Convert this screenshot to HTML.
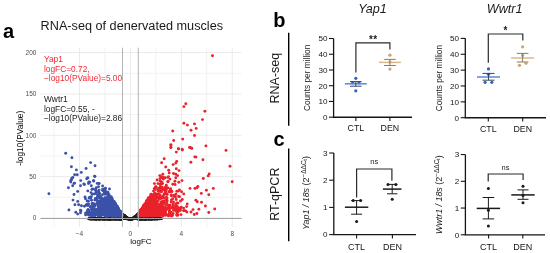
<!DOCTYPE html>
<html><head><meta charset="utf-8"><title>Figure</title>
<style>
html,body{margin:0;padding:0;background:#fff;}
body{width:550px;height:253px;overflow:hidden;}
svg{display:block;filter:blur(0.35px);font-family:"Liberation Sans", sans-serif;}
</style></head><body>
<svg width="550" height="253" viewBox="0 0 550 253">
<rect width="550" height="253" fill="#fff"/>
<line x1="54.02" y1="47.7" x2="54.02" y2="227.0" stroke="#efefef" stroke-width="0.8"/>
<line x1="104.94" y1="47.7" x2="104.94" y2="227.0" stroke="#efefef" stroke-width="0.8"/>
<line x1="155.86" y1="47.7" x2="155.86" y2="227.0" stroke="#efefef" stroke-width="0.8"/>
<line x1="206.78" y1="47.7" x2="206.78" y2="227.0" stroke="#efefef" stroke-width="0.8"/>
<line x1="40.5" y1="197.32" x2="241.5" y2="197.32" stroke="#efefef" stroke-width="0.8"/>
<line x1="40.5" y1="155.97" x2="241.5" y2="155.97" stroke="#efefef" stroke-width="0.8"/>
<line x1="40.5" y1="114.62" x2="241.5" y2="114.62" stroke="#efefef" stroke-width="0.8"/>
<line x1="40.5" y1="73.28" x2="241.5" y2="73.28" stroke="#efefef" stroke-width="0.8"/>
<line x1="79.48" y1="47.7" x2="79.48" y2="227.0" stroke="#ebebeb" stroke-width="1"/>
<line x1="130.40" y1="47.7" x2="130.40" y2="227.0" stroke="#ebebeb" stroke-width="1"/>
<line x1="181.32" y1="47.7" x2="181.32" y2="227.0" stroke="#ebebeb" stroke-width="1"/>
<line x1="232.24" y1="47.7" x2="232.24" y2="227.0" stroke="#ebebeb" stroke-width="1"/>
<line x1="40.5" y1="218.00" x2="241.5" y2="218.00" stroke="#ebebeb" stroke-width="1"/>
<line x1="40.5" y1="176.65" x2="241.5" y2="176.65" stroke="#ebebeb" stroke-width="1"/>
<line x1="40.5" y1="135.30" x2="241.5" y2="135.30" stroke="#ebebeb" stroke-width="1"/>
<line x1="40.5" y1="93.95" x2="241.5" y2="93.95" stroke="#ebebeb" stroke-width="1"/>
<line x1="40.5" y1="52.60" x2="241.5" y2="52.60" stroke="#ebebeb" stroke-width="1"/>
<g fill="#1e1e1e"><circle cx="98.5" cy="218.7" r="1.25"/><circle cx="106.0" cy="218.7" r="1.25"/><circle cx="89.5" cy="218.3" r="1.25"/><circle cx="91.4" cy="219.0" r="1.25"/><circle cx="107.5" cy="218.8" r="1.25"/><circle cx="117.5" cy="218.7" r="1.25"/><circle cx="92.1" cy="218.6" r="1.25"/><circle cx="109.7" cy="219.2" r="1.25"/><circle cx="106.4" cy="218.9" r="1.25"/><circle cx="111.2" cy="218.8" r="1.25"/><circle cx="103.1" cy="218.9" r="1.25"/><circle cx="112.9" cy="218.4" r="1.25"/><circle cx="121.8" cy="218.4" r="1.25"/><circle cx="114.1" cy="219.0" r="1.25"/><circle cx="118.1" cy="218.6" r="1.25"/><circle cx="107.6" cy="218.4" r="1.25"/><circle cx="116.2" cy="218.5" r="1.25"/><circle cx="93.0" cy="219.0" r="1.25"/><circle cx="116.1" cy="218.7" r="1.25"/><circle cx="121.0" cy="219.0" r="1.25"/><circle cx="93.3" cy="218.8" r="1.25"/><circle cx="107.9" cy="219.0" r="1.25"/><circle cx="120.8" cy="218.4" r="1.25"/><circle cx="111.0" cy="218.7" r="1.25"/><circle cx="118.9" cy="219.1" r="1.25"/><circle cx="100.9" cy="218.4" r="1.25"/><circle cx="89.2" cy="218.8" r="1.25"/><circle cx="99.1" cy="218.9" r="1.25"/><circle cx="108.8" cy="218.7" r="1.25"/><circle cx="99.9" cy="219.0" r="1.25"/><circle cx="103.5" cy="218.8" r="1.25"/><circle cx="99.2" cy="218.8" r="1.25"/><circle cx="116.4" cy="219.4" r="1.25"/><circle cx="105.8" cy="218.8" r="1.25"/><circle cx="106.3" cy="218.1" r="1.25"/><circle cx="117.6" cy="218.6" r="1.25"/><circle cx="96.3" cy="219.0" r="1.25"/><circle cx="98.7" cy="219.1" r="1.25"/><circle cx="117.3" cy="218.9" r="1.25"/><circle cx="99.6" cy="218.4" r="1.25"/><circle cx="121.0" cy="219.4" r="1.25"/><circle cx="120.9" cy="218.5" r="1.25"/><circle cx="94.8" cy="218.8" r="1.25"/><circle cx="116.8" cy="218.9" r="1.25"/><circle cx="119.3" cy="218.8" r="1.25"/><circle cx="121.5" cy="218.5" r="1.25"/><circle cx="112.7" cy="218.8" r="1.25"/><circle cx="119.1" cy="218.9" r="1.25"/><circle cx="121.8" cy="218.6" r="1.25"/><circle cx="91.6" cy="219.0" r="1.25"/><circle cx="121.5" cy="218.2" r="1.25"/><circle cx="116.3" cy="218.7" r="1.25"/><circle cx="95.9" cy="218.8" r="1.25"/><circle cx="99.6" cy="219.1" r="1.25"/><circle cx="104.8" cy="218.7" r="1.25"/><circle cx="102.6" cy="218.7" r="1.25"/><circle cx="112.7" cy="218.6" r="1.25"/><circle cx="95.8" cy="219.0" r="1.25"/><circle cx="114.4" cy="218.4" r="1.25"/><circle cx="119.4" cy="218.6" r="1.25"/><circle cx="108.7" cy="218.4" r="1.25"/><circle cx="103.1" cy="218.7" r="1.25"/><circle cx="120.4" cy="218.2" r="1.25"/><circle cx="116.8" cy="218.5" r="1.25"/><circle cx="110.4" cy="219.2" r="1.25"/><circle cx="101.1" cy="218.3" r="1.25"/><circle cx="122.1" cy="218.9" r="1.25"/><circle cx="105.3" cy="219.0" r="1.25"/><circle cx="93.9" cy="218.7" r="1.25"/><circle cx="106.7" cy="218.7" r="1.25"/><circle cx="109.1" cy="219.4" r="1.25"/><circle cx="96.6" cy="219.0" r="1.25"/><circle cx="116.1" cy="219.1" r="1.25"/><circle cx="90.2" cy="219.2" r="1.25"/><circle cx="111.4" cy="219.3" r="1.25"/><circle cx="103.1" cy="219.0" r="1.25"/><circle cx="96.5" cy="218.6" r="1.25"/><circle cx="90.9" cy="218.7" r="1.25"/><circle cx="98.1" cy="218.8" r="1.25"/><circle cx="104.8" cy="218.5" r="1.25"/><circle cx="99.3" cy="218.7" r="1.25"/><circle cx="113.0" cy="218.8" r="1.25"/><circle cx="120.2" cy="218.9" r="1.25"/><circle cx="101.0" cy="218.5" r="1.25"/><circle cx="112.1" cy="218.6" r="1.25"/><circle cx="88.9" cy="218.9" r="1.25"/><circle cx="96.1" cy="219.2" r="1.25"/><circle cx="117.9" cy="219.0" r="1.25"/><circle cx="97.0" cy="218.7" r="1.25"/><circle cx="121.5" cy="219.0" r="1.25"/><circle cx="98.0" cy="219.0" r="1.25"/><circle cx="103.8" cy="218.8" r="1.25"/><circle cx="88.5" cy="218.7" r="1.25"/><circle cx="107.8" cy="218.9" r="1.25"/><circle cx="113.6" cy="218.6" r="1.25"/><circle cx="100.8" cy="218.2" r="1.25"/><circle cx="122.0" cy="218.7" r="1.25"/><circle cx="118.7" cy="218.4" r="1.25"/><circle cx="115.6" cy="218.3" r="1.25"/><circle cx="111.2" cy="218.5" r="1.25"/><circle cx="95.2" cy="218.9" r="1.25"/><circle cx="106.8" cy="218.9" r="1.25"/><circle cx="109.2" cy="218.7" r="1.25"/><circle cx="115.3" cy="218.8" r="1.25"/><circle cx="104.9" cy="218.7" r="1.25"/><circle cx="113.2" cy="218.7" r="1.25"/><circle cx="112.9" cy="218.7" r="1.25"/><circle cx="104.5" cy="218.1" r="1.25"/><circle cx="114.2" cy="218.7" r="1.25"/><circle cx="92.2" cy="218.7" r="1.25"/><circle cx="113.4" cy="218.7" r="1.25"/><circle cx="110.9" cy="218.7" r="1.25"/><circle cx="111.0" cy="218.5" r="1.25"/><circle cx="103.6" cy="218.7" r="1.25"/><circle cx="118.7" cy="219.3" r="1.25"/><circle cx="103.0" cy="218.7" r="1.25"/><circle cx="120.8" cy="218.9" r="1.25"/><circle cx="118.5" cy="218.5" r="1.25"/><circle cx="104.3" cy="219.0" r="1.25"/><circle cx="103.0" cy="218.8" r="1.25"/><circle cx="116.8" cy="219.1" r="1.25"/><circle cx="119.0" cy="218.6" r="1.25"/><circle cx="100.2" cy="219.1" r="1.25"/><circle cx="99.8" cy="218.7" r="1.25"/><circle cx="96.8" cy="219.1" r="1.25"/><circle cx="95.9" cy="219.0" r="1.25"/><circle cx="105.1" cy="218.3" r="1.25"/><circle cx="118.4" cy="219.2" r="1.25"/><circle cx="120.4" cy="218.7" r="1.25"/><circle cx="113.0" cy="218.7" r="1.25"/><circle cx="113.7" cy="218.7" r="1.25"/><circle cx="119.9" cy="218.8" r="1.25"/><circle cx="103.8" cy="218.6" r="1.25"/><circle cx="121.7" cy="219.1" r="1.25"/><circle cx="110.3" cy="218.5" r="1.25"/><circle cx="92.9" cy="218.7" r="1.25"/><circle cx="104.6" cy="219.4" r="1.25"/><circle cx="103.0" cy="218.3" r="1.25"/><circle cx="93.8" cy="218.7" r="1.25"/><circle cx="95.5" cy="218.8" r="1.25"/><circle cx="113.6" cy="218.5" r="1.25"/><circle cx="100.4" cy="218.9" r="1.25"/><circle cx="121.4" cy="218.4" r="1.25"/><circle cx="117.6" cy="218.7" r="1.25"/><circle cx="96.6" cy="218.5" r="1.25"/><circle cx="120.9" cy="218.9" r="1.25"/><circle cx="118.0" cy="219.1" r="1.25"/><circle cx="118.8" cy="218.8" r="1.25"/><circle cx="107.8" cy="218.3" r="1.25"/><circle cx="116.3" cy="219.1" r="1.25"/><circle cx="121.5" cy="218.9" r="1.25"/><circle cx="120.4" cy="218.8" r="1.25"/><circle cx="103.2" cy="219.2" r="1.25"/><circle cx="109.9" cy="218.9" r="1.25"/><circle cx="109.6" cy="218.8" r="1.25"/><circle cx="105.6" cy="218.8" r="1.25"/><circle cx="100.8" cy="218.7" r="1.25"/><circle cx="121.0" cy="218.7" r="1.25"/><circle cx="118.4" cy="218.8" r="1.25"/><circle cx="121.1" cy="218.9" r="1.25"/><circle cx="97.9" cy="218.4" r="1.25"/><circle cx="101.9" cy="218.8" r="1.25"/><circle cx="95.1" cy="218.6" r="1.25"/><circle cx="111.2" cy="219.0" r="1.25"/><circle cx="115.3" cy="218.6" r="1.25"/><circle cx="121.4" cy="218.7" r="1.25"/><circle cx="116.1" cy="218.8" r="1.25"/><circle cx="104.6" cy="219.2" r="1.25"/><circle cx="92.0" cy="219.0" r="1.25"/><circle cx="118.9" cy="218.8" r="1.25"/><circle cx="120.1" cy="219.0" r="1.25"/><circle cx="113.5" cy="219.3" r="1.25"/><circle cx="110.6" cy="218.6" r="1.25"/><circle cx="93.0" cy="218.9" r="1.25"/><circle cx="96.9" cy="218.9" r="1.25"/><circle cx="121.2" cy="218.7" r="1.25"/><circle cx="116.2" cy="219.0" r="1.25"/><circle cx="118.8" cy="218.8" r="1.25"/><circle cx="114.2" cy="218.8" r="1.25"/><circle cx="119.7" cy="218.8" r="1.25"/><circle cx="99.0" cy="219.1" r="1.25"/><circle cx="98.2" cy="218.7" r="1.25"/><circle cx="119.5" cy="218.8" r="1.25"/><circle cx="121.0" cy="218.7" r="1.25"/><circle cx="100.7" cy="218.5" r="1.25"/><circle cx="119.9" cy="218.9" r="1.25"/><circle cx="115.5" cy="218.9" r="1.25"/><circle cx="108.6" cy="218.4" r="1.25"/><circle cx="98.3" cy="218.8" r="1.25"/><circle cx="95.8" cy="218.7" r="1.25"/><circle cx="96.4" cy="219.0" r="1.25"/><circle cx="112.2" cy="218.9" r="1.25"/><circle cx="109.0" cy="218.7" r="1.25"/><circle cx="110.6" cy="218.3" r="1.25"/><circle cx="116.9" cy="218.5" r="1.25"/><circle cx="113.2" cy="218.7" r="1.25"/><circle cx="95.8" cy="219.0" r="1.25"/><circle cx="107.5" cy="219.2" r="1.25"/><circle cx="105.0" cy="218.9" r="1.25"/><circle cx="122.2" cy="218.4" r="1.25"/><circle cx="91.2" cy="219.1" r="1.25"/><circle cx="120.0" cy="218.7" r="1.25"/><circle cx="117.7" cy="218.7" r="1.25"/><circle cx="120.6" cy="219.2" r="1.25"/><circle cx="108.2" cy="218.8" r="1.25"/><circle cx="92.0" cy="219.0" r="1.25"/><circle cx="110.1" cy="219.0" r="1.25"/><circle cx="111.1" cy="218.8" r="1.25"/><circle cx="98.1" cy="218.8" r="1.25"/><circle cx="89.2" cy="218.4" r="1.25"/><circle cx="109.7" cy="218.9" r="1.25"/><circle cx="101.5" cy="219.1" r="1.25"/><circle cx="99.7" cy="219.3" r="1.25"/><circle cx="99.9" cy="218.1" r="1.25"/><circle cx="112.8" cy="219.3" r="1.25"/><circle cx="103.4" cy="218.8" r="1.25"/><circle cx="94.0" cy="219.4" r="1.25"/><circle cx="104.1" cy="218.5" r="1.25"/><circle cx="119.9" cy="219.0" r="1.25"/><circle cx="116.3" cy="218.6" r="1.25"/><circle cx="114.9" cy="218.4" r="1.25"/><circle cx="116.4" cy="219.0" r="1.25"/><circle cx="105.4" cy="218.9" r="1.25"/><circle cx="113.9" cy="218.9" r="1.25"/><circle cx="116.8" cy="218.5" r="1.25"/><circle cx="109.3" cy="218.6" r="1.25"/><circle cx="102.9" cy="219.1" r="1.25"/><circle cx="104.4" cy="218.8" r="1.25"/><circle cx="114.1" cy="218.6" r="1.25"/><circle cx="103.8" cy="218.8" r="1.25"/><circle cx="105.1" cy="218.7" r="1.25"/><circle cx="113.0" cy="218.7" r="1.25"/><circle cx="105.2" cy="218.5" r="1.25"/><circle cx="120.8" cy="218.7" r="1.25"/><circle cx="119.5" cy="218.9" r="1.25"/><circle cx="113.8" cy="218.2" r="1.25"/><circle cx="118.8" cy="218.8" r="1.25"/><circle cx="94.4" cy="218.6" r="1.25"/><circle cx="105.0" cy="218.9" r="1.25"/><circle cx="109.6" cy="218.8" r="1.25"/><circle cx="118.0" cy="218.3" r="1.25"/><circle cx="109.4" cy="218.5" r="1.25"/><circle cx="115.3" cy="219.1" r="1.25"/><circle cx="102.7" cy="218.7" r="1.25"/><circle cx="113.4" cy="218.8" r="1.25"/><circle cx="107.8" cy="218.6" r="1.25"/><circle cx="98.1" cy="218.9" r="1.25"/><circle cx="108.9" cy="218.8" r="1.25"/><circle cx="91.7" cy="218.7" r="1.25"/><circle cx="107.9" cy="218.7" r="1.25"/><circle cx="109.1" cy="219.1" r="1.25"/><circle cx="95.6" cy="219.2" r="1.25"/><circle cx="117.9" cy="218.6" r="1.25"/><circle cx="107.0" cy="218.9" r="1.25"/><circle cx="109.9" cy="219.1" r="1.25"/><circle cx="101.4" cy="218.6" r="1.25"/><circle cx="120.4" cy="218.9" r="1.25"/><circle cx="115.9" cy="219.1" r="1.25"/><circle cx="98.0" cy="219.3" r="1.25"/><circle cx="114.8" cy="218.9" r="1.25"/><circle cx="113.5" cy="218.7" r="1.25"/><circle cx="95.0" cy="218.5" r="1.25"/><circle cx="95.2" cy="218.5" r="1.25"/><circle cx="112.3" cy="219.1" r="1.25"/><circle cx="106.7" cy="218.8" r="1.25"/><circle cx="121.3" cy="218.5" r="1.25"/><circle cx="118.2" cy="218.7" r="1.25"/><circle cx="113.5" cy="218.9" r="1.25"/><circle cx="118.2" cy="218.8" r="1.25"/><circle cx="109.4" cy="219.3" r="1.25"/><circle cx="107.2" cy="218.8" r="1.25"/><circle cx="92.1" cy="219.1" r="1.25"/><circle cx="99.2" cy="218.8" r="1.25"/><circle cx="111.6" cy="218.8" r="1.25"/><circle cx="111.7" cy="219.1" r="1.25"/><circle cx="90.8" cy="218.9" r="1.25"/><circle cx="91.0" cy="219.0" r="1.25"/><circle cx="109.4" cy="218.4" r="1.25"/><circle cx="90.5" cy="218.8" r="1.25"/><circle cx="98.3" cy="218.6" r="1.25"/><circle cx="100.1" cy="219.0" r="1.25"/><circle cx="117.2" cy="218.7" r="1.25"/><circle cx="106.1" cy="218.8" r="1.25"/><circle cx="116.1" cy="218.7" r="1.25"/><circle cx="97.1" cy="218.7" r="1.25"/><circle cx="109.3" cy="218.5" r="1.25"/><circle cx="101.2" cy="218.8" r="1.25"/><circle cx="118.5" cy="218.7" r="1.25"/><circle cx="94.3" cy="219.0" r="1.25"/><circle cx="113.7" cy="218.6" r="1.25"/><circle cx="99.4" cy="219.0" r="1.25"/><circle cx="110.5" cy="219.1" r="1.25"/><circle cx="114.5" cy="218.9" r="1.25"/><circle cx="118.4" cy="218.9" r="1.25"/><circle cx="93.8" cy="218.6" r="1.25"/><circle cx="92.5" cy="218.3" r="1.25"/><circle cx="95.8" cy="218.6" r="1.25"/><circle cx="98.6" cy="218.7" r="1.25"/><circle cx="121.6" cy="219.3" r="1.25"/><circle cx="121.9" cy="219.1" r="1.25"/><circle cx="113.0" cy="218.9" r="1.25"/><circle cx="90.8" cy="219.1" r="1.25"/><circle cx="100.8" cy="218.4" r="1.25"/><circle cx="111.6" cy="219.0" r="1.25"/><circle cx="109.4" cy="219.0" r="1.25"/><circle cx="119.2" cy="219.0" r="1.25"/><circle cx="102.0" cy="218.7" r="1.25"/><circle cx="114.5" cy="218.2" r="1.25"/><circle cx="117.3" cy="218.6" r="1.25"/><circle cx="114.8" cy="218.5" r="1.25"/><circle cx="109.4" cy="218.5" r="1.25"/><circle cx="109.1" cy="218.9" r="1.25"/><circle cx="114.6" cy="218.1" r="1.25"/><circle cx="120.4" cy="218.8" r="1.25"/><circle cx="116.4" cy="218.2" r="1.25"/><circle cx="99.6" cy="219.1" r="1.25"/><circle cx="96.7" cy="219.0" r="1.25"/><circle cx="99.5" cy="218.8" r="1.25"/><circle cx="120.4" cy="218.8" r="1.25"/><circle cx="100.9" cy="219.2" r="1.25"/><circle cx="115.7" cy="218.4" r="1.25"/><circle cx="116.1" cy="218.8" r="1.25"/><circle cx="103.6" cy="218.6" r="1.25"/><circle cx="116.6" cy="218.7" r="1.25"/><circle cx="117.2" cy="218.6" r="1.25"/><circle cx="102.1" cy="218.9" r="1.25"/><circle cx="97.0" cy="218.7" r="1.25"/><circle cx="110.4" cy="219.0" r="1.25"/><circle cx="120.0" cy="219.2" r="1.25"/><circle cx="119.2" cy="218.9" r="1.25"/><circle cx="109.5" cy="219.4" r="1.25"/><circle cx="110.3" cy="218.8" r="1.25"/><circle cx="90.6" cy="218.8" r="1.25"/><circle cx="99.3" cy="219.2" r="1.25"/><circle cx="119.1" cy="219.0" r="1.25"/><circle cx="115.0" cy="219.2" r="1.25"/><circle cx="106.7" cy="218.8" r="1.25"/><circle cx="104.5" cy="218.9" r="1.25"/><circle cx="103.6" cy="218.5" r="1.25"/><circle cx="103.6" cy="218.8" r="1.25"/><circle cx="100.3" cy="218.8" r="1.25"/><circle cx="109.6" cy="218.7" r="1.25"/><circle cx="105.1" cy="218.8" r="1.25"/><circle cx="112.5" cy="218.7" r="1.25"/><circle cx="100.0" cy="218.3" r="1.25"/><circle cx="116.3" cy="218.7" r="1.25"/><circle cx="116.4" cy="218.6" r="1.25"/><circle cx="98.7" cy="218.7" r="1.25"/><circle cx="118.4" cy="219.0" r="1.25"/><circle cx="119.7" cy="218.8" r="1.25"/><circle cx="119.3" cy="218.5" r="1.25"/><circle cx="111.7" cy="218.5" r="1.25"/><circle cx="111.2" cy="218.6" r="1.25"/><circle cx="114.1" cy="218.5" r="1.25"/><circle cx="93.4" cy="218.8" r="1.25"/><circle cx="110.3" cy="218.2" r="1.25"/><circle cx="116.2" cy="218.6" r="1.25"/><circle cx="97.7" cy="218.7" r="1.25"/><circle cx="98.3" cy="218.4" r="1.25"/><circle cx="115.8" cy="218.3" r="1.25"/><circle cx="119.6" cy="219.0" r="1.25"/><circle cx="121.8" cy="218.8" r="1.25"/><circle cx="101.6" cy="218.6" r="1.25"/><circle cx="92.4" cy="218.6" r="1.25"/><circle cx="91.6" cy="218.7" r="1.25"/><circle cx="113.0" cy="218.6" r="1.25"/><circle cx="112.9" cy="218.5" r="1.25"/><circle cx="112.5" cy="218.5" r="1.25"/><circle cx="116.0" cy="218.6" r="1.25"/><circle cx="104.3" cy="219.1" r="1.25"/><circle cx="109.4" cy="218.4" r="1.25"/><circle cx="120.5" cy="219.0" r="1.25"/><circle cx="107.1" cy="219.4" r="1.25"/><circle cx="121.7" cy="219.0" r="1.25"/><circle cx="108.3" cy="218.3" r="1.25"/><circle cx="115.7" cy="219.0" r="1.25"/><circle cx="107.3" cy="219.0" r="1.25"/><circle cx="99.3" cy="218.4" r="1.25"/><circle cx="120.1" cy="218.5" r="1.25"/><circle cx="103.5" cy="218.5" r="1.25"/><circle cx="115.1" cy="219.1" r="1.25"/><circle cx="114.4" cy="219.0" r="1.25"/><circle cx="118.4" cy="218.4" r="1.25"/><circle cx="93.7" cy="218.8" r="1.25"/><circle cx="101.3" cy="218.8" r="1.25"/><circle cx="122.4" cy="218.8" r="1.25"/><circle cx="115.0" cy="218.6" r="1.25"/><circle cx="105.4" cy="218.6" r="1.25"/><circle cx="117.7" cy="218.6" r="1.25"/><circle cx="114.7" cy="218.7" r="1.25"/><circle cx="120.6" cy="219.0" r="1.25"/><circle cx="96.0" cy="218.2" r="1.25"/><circle cx="94.1" cy="218.8" r="1.25"/><circle cx="119.3" cy="218.8" r="1.25"/><circle cx="108.2" cy="219.2" r="1.25"/><circle cx="110.8" cy="219.2" r="1.25"/><circle cx="102.9" cy="219.5" r="1.25"/><circle cx="94.9" cy="218.6" r="1.25"/><circle cx="96.1" cy="219.2" r="1.25"/><circle cx="116.7" cy="218.4" r="1.25"/><circle cx="114.9" cy="218.3" r="1.25"/><circle cx="111.0" cy="218.2" r="1.25"/><circle cx="96.1" cy="218.6" r="1.25"/><circle cx="95.5" cy="218.8" r="1.25"/><circle cx="111.1" cy="218.7" r="1.25"/><circle cx="141.4" cy="218.6" r="1.25"/><circle cx="140.3" cy="218.9" r="1.25"/><circle cx="148.9" cy="218.5" r="1.25"/><circle cx="153.1" cy="218.8" r="1.25"/><circle cx="141.5" cy="218.8" r="1.25"/><circle cx="144.4" cy="218.9" r="1.25"/><circle cx="142.0" cy="218.9" r="1.25"/><circle cx="139.4" cy="218.7" r="1.25"/><circle cx="149.5" cy="218.6" r="1.25"/><circle cx="144.2" cy="218.2" r="1.25"/><circle cx="140.3" cy="219.3" r="1.25"/><circle cx="159.5" cy="218.7" r="1.25"/><circle cx="161.5" cy="218.5" r="1.25"/><circle cx="141.4" cy="218.9" r="1.25"/><circle cx="142.5" cy="218.5" r="1.25"/><circle cx="151.7" cy="218.9" r="1.25"/><circle cx="155.1" cy="219.1" r="1.25"/><circle cx="139.9" cy="218.5" r="1.25"/><circle cx="144.6" cy="218.6" r="1.25"/><circle cx="142.9" cy="218.7" r="1.25"/><circle cx="155.3" cy="218.5" r="1.25"/><circle cx="149.8" cy="219.0" r="1.25"/><circle cx="142.5" cy="218.6" r="1.25"/><circle cx="146.8" cy="218.5" r="1.25"/><circle cx="138.1" cy="219.0" r="1.25"/><circle cx="148.7" cy="219.0" r="1.25"/><circle cx="145.7" cy="219.0" r="1.25"/><circle cx="139.5" cy="219.0" r="1.25"/><circle cx="150.3" cy="218.7" r="1.25"/><circle cx="150.9" cy="218.9" r="1.25"/><circle cx="142.4" cy="218.7" r="1.25"/><circle cx="144.0" cy="218.9" r="1.25"/><circle cx="154.8" cy="218.8" r="1.25"/><circle cx="138.4" cy="218.5" r="1.25"/><circle cx="154.9" cy="218.6" r="1.25"/><circle cx="139.1" cy="218.5" r="1.25"/><circle cx="144.7" cy="218.8" r="1.25"/><circle cx="147.7" cy="218.3" r="1.25"/><circle cx="141.5" cy="218.5" r="1.25"/><circle cx="155.9" cy="219.0" r="1.25"/><circle cx="147.3" cy="218.2" r="1.25"/><circle cx="156.6" cy="218.8" r="1.25"/><circle cx="139.3" cy="219.0" r="1.25"/><circle cx="144.0" cy="218.6" r="1.25"/><circle cx="150.7" cy="218.6" r="1.25"/><circle cx="148.4" cy="218.9" r="1.25"/><circle cx="159.2" cy="218.8" r="1.25"/><circle cx="153.4" cy="218.7" r="1.25"/><circle cx="152.9" cy="218.6" r="1.25"/><circle cx="150.5" cy="218.9" r="1.25"/><circle cx="145.3" cy="218.7" r="1.25"/><circle cx="140.9" cy="219.0" r="1.25"/><circle cx="144.4" cy="218.7" r="1.25"/><circle cx="150.8" cy="218.8" r="1.25"/><circle cx="145.0" cy="218.8" r="1.25"/><circle cx="144.9" cy="219.0" r="1.25"/><circle cx="142.8" cy="218.9" r="1.25"/><circle cx="149.1" cy="218.5" r="1.25"/><circle cx="145.5" cy="218.6" r="1.25"/><circle cx="143.3" cy="218.5" r="1.25"/><circle cx="138.3" cy="219.0" r="1.25"/><circle cx="158.7" cy="218.5" r="1.25"/><circle cx="145.1" cy="218.6" r="1.25"/><circle cx="141.8" cy="218.9" r="1.25"/><circle cx="139.5" cy="218.6" r="1.25"/><circle cx="140.6" cy="219.1" r="1.25"/><circle cx="141.7" cy="218.6" r="1.25"/><circle cx="146.5" cy="218.4" r="1.25"/><circle cx="160.0" cy="218.4" r="1.25"/><circle cx="158.9" cy="218.8" r="1.25"/><circle cx="151.7" cy="218.4" r="1.25"/><circle cx="152.6" cy="218.5" r="1.25"/><circle cx="155.4" cy="218.8" r="1.25"/><circle cx="147.4" cy="218.6" r="1.25"/><circle cx="150.0" cy="218.9" r="1.25"/><circle cx="142.4" cy="219.0" r="1.25"/><circle cx="152.0" cy="219.0" r="1.25"/><circle cx="138.3" cy="218.5" r="1.25"/><circle cx="150.4" cy="218.6" r="1.25"/><circle cx="154.4" cy="218.5" r="1.25"/><circle cx="140.4" cy="219.0" r="1.25"/><circle cx="147.6" cy="218.3" r="1.25"/><circle cx="148.6" cy="218.5" r="1.25"/><circle cx="142.1" cy="219.2" r="1.25"/><circle cx="150.3" cy="218.7" r="1.25"/><circle cx="141.8" cy="218.5" r="1.25"/><circle cx="142.5" cy="218.7" r="1.25"/><circle cx="153.3" cy="218.4" r="1.25"/><circle cx="145.4" cy="219.0" r="1.25"/><circle cx="138.1" cy="218.9" r="1.25"/><circle cx="154.0" cy="218.5" r="1.25"/><circle cx="149.9" cy="218.7" r="1.25"/><circle cx="151.8" cy="219.1" r="1.25"/><circle cx="140.9" cy="218.8" r="1.25"/><circle cx="140.4" cy="218.6" r="1.25"/><circle cx="139.5" cy="218.8" r="1.25"/><circle cx="155.2" cy="218.5" r="1.25"/><circle cx="142.1" cy="219.2" r="1.25"/><circle cx="152.0" cy="219.1" r="1.25"/><circle cx="148.8" cy="219.2" r="1.25"/><circle cx="148.6" cy="218.9" r="1.25"/><circle cx="144.0" cy="219.2" r="1.25"/><circle cx="157.6" cy="218.5" r="1.25"/><circle cx="143.8" cy="218.7" r="1.25"/><circle cx="143.8" cy="218.6" r="1.25"/><circle cx="146.6" cy="219.0" r="1.25"/><circle cx="151.5" cy="218.7" r="1.25"/><circle cx="150.8" cy="218.7" r="1.25"/><circle cx="141.0" cy="218.8" r="1.25"/><circle cx="146.4" cy="218.8" r="1.25"/><circle cx="143.7" cy="218.9" r="1.25"/><circle cx="153.9" cy="219.0" r="1.25"/><circle cx="140.2" cy="219.1" r="1.25"/><circle cx="158.0" cy="218.3" r="1.25"/><circle cx="157.3" cy="218.9" r="1.25"/><circle cx="146.5" cy="218.3" r="1.25"/><circle cx="150.1" cy="219.2" r="1.25"/><circle cx="148.9" cy="218.7" r="1.25"/><circle cx="146.8" cy="218.6" r="1.25"/><circle cx="152.6" cy="218.8" r="1.25"/><circle cx="150.3" cy="218.7" r="1.25"/><circle cx="144.5" cy="218.5" r="1.25"/><circle cx="151.6" cy="219.0" r="1.25"/><circle cx="147.4" cy="219.0" r="1.25"/><circle cx="145.7" cy="219.2" r="1.25"/><circle cx="140.6" cy="218.6" r="1.25"/><circle cx="145.1" cy="219.0" r="1.25"/><circle cx="145.5" cy="219.0" r="1.25"/><circle cx="144.8" cy="219.0" r="1.25"/><circle cx="141.2" cy="219.1" r="1.25"/><circle cx="153.9" cy="218.8" r="1.25"/><circle cx="147.9" cy="218.7" r="1.25"/><circle cx="153.1" cy="218.6" r="1.25"/><circle cx="140.8" cy="218.7" r="1.25"/><circle cx="139.0" cy="218.4" r="1.25"/><circle cx="141.9" cy="218.7" r="1.25"/><circle cx="138.9" cy="219.0" r="1.25"/><circle cx="153.3" cy="218.9" r="1.25"/><circle cx="155.2" cy="218.5" r="1.25"/><circle cx="146.4" cy="219.0" r="1.25"/><circle cx="144.9" cy="218.4" r="1.25"/><circle cx="139.1" cy="219.1" r="1.25"/><circle cx="156.0" cy="219.0" r="1.25"/><circle cx="154.7" cy="218.7" r="1.25"/><circle cx="144.7" cy="218.3" r="1.25"/><circle cx="153.1" cy="219.1" r="1.25"/><circle cx="148.3" cy="218.9" r="1.25"/><circle cx="160.3" cy="218.8" r="1.25"/><circle cx="144.3" cy="218.7" r="1.25"/><circle cx="151.1" cy="219.0" r="1.25"/><circle cx="147.9" cy="218.8" r="1.25"/><circle cx="145.5" cy="218.7" r="1.25"/><circle cx="143.7" cy="218.4" r="1.25"/><circle cx="150.4" cy="219.0" r="1.25"/><circle cx="141.4" cy="218.7" r="1.25"/><circle cx="142.1" cy="218.5" r="1.25"/><circle cx="140.7" cy="218.6" r="1.25"/><circle cx="146.7" cy="218.9" r="1.25"/><circle cx="142.7" cy="218.8" r="1.25"/><circle cx="148.8" cy="218.6" r="1.25"/><circle cx="146.7" cy="219.0" r="1.25"/><circle cx="139.7" cy="219.2" r="1.25"/><circle cx="140.0" cy="218.7" r="1.25"/><circle cx="140.6" cy="218.6" r="1.25"/><circle cx="151.0" cy="218.8" r="1.25"/><circle cx="153.7" cy="218.8" r="1.25"/><circle cx="138.7" cy="218.9" r="1.25"/><circle cx="142.5" cy="219.1" r="1.25"/><circle cx="142.0" cy="218.3" r="1.25"/><circle cx="145.8" cy="218.9" r="1.25"/><circle cx="146.8" cy="218.6" r="1.25"/><circle cx="143.7" cy="218.4" r="1.25"/><circle cx="149.9" cy="218.6" r="1.25"/><circle cx="141.8" cy="218.7" r="1.25"/><circle cx="154.5" cy="218.7" r="1.25"/><circle cx="140.2" cy="218.6" r="1.25"/><circle cx="155.4" cy="218.8" r="1.25"/><circle cx="144.8" cy="218.5" r="1.25"/><circle cx="146.1" cy="218.7" r="1.25"/><circle cx="159.7" cy="218.7" r="1.25"/><circle cx="151.5" cy="219.0" r="1.25"/><circle cx="142.7" cy="218.6" r="1.25"/><circle cx="157.5" cy="219.0" r="1.25"/><circle cx="145.1" cy="219.0" r="1.25"/><circle cx="153.5" cy="218.7" r="1.25"/><circle cx="138.7" cy="218.6" r="1.25"/><circle cx="140.0" cy="218.5" r="1.25"/><circle cx="146.9" cy="218.5" r="1.25"/><circle cx="151.6" cy="218.9" r="1.25"/><circle cx="140.7" cy="219.0" r="1.25"/><circle cx="140.7" cy="218.5" r="1.25"/><circle cx="144.1" cy="218.6" r="1.25"/><circle cx="149.7" cy="218.7" r="1.25"/><circle cx="143.4" cy="219.0" r="1.25"/><circle cx="152.1" cy="218.9" r="1.25"/><circle cx="147.8" cy="218.3" r="1.25"/><circle cx="156.2" cy="218.9" r="1.25"/><circle cx="140.5" cy="218.6" r="1.25"/><circle cx="156.6" cy="218.8" r="1.25"/><circle cx="156.6" cy="218.8" r="1.25"/><circle cx="138.4" cy="219.0" r="1.25"/><circle cx="143.1" cy="218.7" r="1.25"/><circle cx="142.0" cy="218.5" r="1.25"/><circle cx="140.9" cy="218.7" r="1.25"/><circle cx="155.3" cy="218.1" r="1.25"/><circle cx="152.5" cy="218.3" r="1.25"/><circle cx="154.2" cy="218.6" r="1.25"/><circle cx="142.6" cy="218.9" r="1.25"/><circle cx="140.7" cy="218.5" r="1.25"/><circle cx="140.7" cy="218.9" r="1.25"/><circle cx="145.0" cy="219.0" r="1.25"/><circle cx="147.1" cy="219.0" r="1.25"/><circle cx="160.8" cy="218.5" r="1.25"/><circle cx="146.2" cy="218.2" r="1.25"/><circle cx="157.2" cy="218.7" r="1.25"/><circle cx="142.4" cy="218.6" r="1.25"/><circle cx="149.4" cy="218.5" r="1.25"/><circle cx="139.8" cy="218.9" r="1.25"/><circle cx="152.1" cy="219.3" r="1.25"/><circle cx="142.1" cy="218.4" r="1.25"/><circle cx="147.3" cy="218.8" r="1.25"/><circle cx="138.1" cy="218.7" r="1.25"/><circle cx="139.1" cy="218.8" r="1.25"/><circle cx="154.1" cy="218.7" r="1.25"/><circle cx="144.3" cy="219.0" r="1.25"/><circle cx="146.7" cy="218.9" r="1.25"/><circle cx="145.3" cy="218.3" r="1.25"/><circle cx="153.2" cy="218.5" r="1.25"/><circle cx="139.5" cy="218.7" r="1.25"/><circle cx="149.6" cy="218.8" r="1.25"/><circle cx="146.4" cy="218.9" r="1.25"/><circle cx="138.2" cy="218.5" r="1.25"/><circle cx="151.6" cy="218.8" r="1.25"/><circle cx="142.1" cy="218.7" r="1.25"/><circle cx="139.9" cy="219.0" r="1.25"/><circle cx="139.6" cy="218.9" r="1.25"/><circle cx="144.2" cy="218.6" r="1.25"/><circle cx="141.9" cy="218.7" r="1.25"/><circle cx="147.6" cy="218.6" r="1.25"/><circle cx="153.6" cy="218.7" r="1.25"/><circle cx="152.4" cy="218.1" r="1.25"/><circle cx="146.2" cy="218.9" r="1.25"/><circle cx="145.8" cy="219.0" r="1.25"/><circle cx="153.6" cy="218.7" r="1.25"/><circle cx="139.4" cy="218.5" r="1.25"/><circle cx="139.1" cy="218.6" r="1.25"/><circle cx="152.3" cy="219.0" r="1.25"/><circle cx="149.1" cy="219.0" r="1.25"/><circle cx="145.9" cy="218.6" r="1.25"/><circle cx="141.7" cy="218.8" r="1.25"/><circle cx="152.4" cy="218.6" r="1.25"/><circle cx="155.8" cy="218.6" r="1.25"/><circle cx="156.6" cy="218.3" r="1.25"/><circle cx="148.9" cy="218.2" r="1.25"/><circle cx="141.2" cy="218.7" r="1.25"/><circle cx="156.2" cy="218.9" r="1.25"/><circle cx="139.4" cy="218.8" r="1.25"/><circle cx="151.3" cy="219.0" r="1.25"/><circle cx="141.6" cy="218.7" r="1.25"/><circle cx="141.9" cy="218.8" r="1.25"/><circle cx="153.3" cy="218.6" r="1.25"/><circle cx="140.6" cy="219.1" r="1.25"/><circle cx="139.4" cy="218.9" r="1.25"/><circle cx="143.4" cy="218.7" r="1.25"/><circle cx="143.6" cy="219.0" r="1.25"/><circle cx="143.2" cy="219.0" r="1.25"/><circle cx="144.8" cy="219.2" r="1.25"/><circle cx="141.9" cy="218.5" r="1.25"/><circle cx="158.7" cy="218.6" r="1.25"/><circle cx="145.1" cy="219.3" r="1.25"/><circle cx="138.2" cy="219.2" r="1.25"/><circle cx="141.6" cy="218.9" r="1.25"/><circle cx="154.4" cy="218.8" r="1.25"/><circle cx="161.5" cy="218.8" r="1.25"/><circle cx="154.5" cy="219.2" r="1.25"/><circle cx="150.1" cy="218.6" r="1.25"/><circle cx="140.9" cy="218.8" r="1.25"/><circle cx="141.3" cy="218.9" r="1.25"/><circle cx="141.6" cy="219.1" r="1.25"/><circle cx="150.0" cy="218.6" r="1.25"/><circle cx="144.6" cy="219.0" r="1.25"/><circle cx="144.4" cy="219.0" r="1.25"/><circle cx="147.8" cy="218.8" r="1.25"/><circle cx="146.7" cy="218.6" r="1.25"/><circle cx="151.1" cy="218.4" r="1.25"/><circle cx="147.6" cy="218.2" r="1.25"/><circle cx="147.3" cy="219.1" r="1.25"/><circle cx="147.8" cy="218.8" r="1.25"/><circle cx="144.1" cy="218.7" r="1.25"/><circle cx="147.0" cy="218.8" r="1.25"/><circle cx="159.8" cy="218.9" r="1.25"/><circle cx="154.7" cy="218.6" r="1.25"/><circle cx="138.0" cy="218.5" r="1.25"/><circle cx="143.6" cy="218.7" r="1.25"/><circle cx="155.1" cy="218.5" r="1.25"/><circle cx="154.3" cy="218.5" r="1.25"/><circle cx="143.4" cy="218.5" r="1.25"/><circle cx="150.5" cy="218.8" r="1.25"/><circle cx="150.6" cy="218.9" r="1.25"/><circle cx="157.5" cy="219.0" r="1.25"/><circle cx="149.0" cy="219.2" r="1.25"/><circle cx="158.8" cy="218.4" r="1.25"/><circle cx="157.6" cy="219.1" r="1.25"/><circle cx="141.7" cy="218.9" r="1.25"/><circle cx="148.9" cy="218.9" r="1.25"/><circle cx="156.2" cy="218.6" r="1.25"/><circle cx="150.5" cy="218.5" r="1.25"/><circle cx="146.9" cy="218.7" r="1.25"/><circle cx="142.8" cy="218.8" r="1.25"/><circle cx="139.4" cy="218.7" r="1.25"/><circle cx="145.8" cy="218.6" r="1.25"/><circle cx="158.0" cy="218.4" r="1.25"/><circle cx="142.8" cy="218.4" r="1.25"/><circle cx="146.9" cy="218.5" r="1.25"/><circle cx="155.1" cy="218.8" r="1.25"/><circle cx="147.8" cy="218.8" r="1.25"/><circle cx="147.2" cy="218.5" r="1.25"/><circle cx="146.9" cy="218.7" r="1.25"/><circle cx="150.6" cy="218.8" r="1.25"/><circle cx="138.6" cy="218.5" r="1.25"/><circle cx="148.6" cy="218.8" r="1.25"/><circle cx="147.6" cy="218.6" r="1.25"/><circle cx="140.8" cy="218.5" r="1.25"/><circle cx="139.9" cy="218.8" r="1.25"/><circle cx="139.3" cy="218.8" r="1.25"/><circle cx="139.3" cy="218.5" r="1.25"/><circle cx="158.9" cy="218.9" r="1.25"/><circle cx="146.0" cy="219.5" r="1.25"/><circle cx="144.6" cy="218.8" r="1.25"/><circle cx="145.5" cy="219.0" r="1.25"/><circle cx="150.3" cy="218.5" r="1.25"/><circle cx="139.2" cy="219.1" r="1.25"/><circle cx="142.8" cy="218.4" r="1.25"/><circle cx="150.9" cy="218.5" r="1.25"/><circle cx="152.0" cy="218.8" r="1.25"/><circle cx="157.2" cy="219.0" r="1.25"/><circle cx="139.2" cy="218.6" r="1.25"/><circle cx="150.8" cy="218.5" r="1.25"/><circle cx="144.6" cy="218.7" r="1.25"/><circle cx="145.0" cy="218.9" r="1.25"/><circle cx="139.4" cy="218.4" r="1.25"/><circle cx="153.3" cy="218.8" r="1.25"/><circle cx="152.3" cy="218.7" r="1.25"/><circle cx="145.1" cy="218.8" r="1.25"/><circle cx="140.4" cy="218.6" r="1.25"/><circle cx="148.0" cy="218.7" r="1.25"/><circle cx="154.5" cy="219.3" r="1.25"/><circle cx="139.4" cy="219.2" r="1.25"/><circle cx="145.0" cy="218.9" r="1.25"/><circle cx="152.0" cy="218.6" r="1.25"/><circle cx="158.2" cy="218.7" r="1.25"/><circle cx="135.1" cy="218.8" r="1.25"/><circle cx="128.7" cy="218.8" r="1.25"/><circle cx="128.5" cy="218.8" r="1.25"/><circle cx="126.0" cy="217.8" r="1.25"/><circle cx="124.0" cy="216.6" r="1.25"/><circle cx="134.0" cy="217.9" r="1.25"/><circle cx="133.2" cy="217.9" r="1.25"/><circle cx="135.6" cy="216.1" r="1.25"/><circle cx="137.1" cy="218.9" r="1.25"/><circle cx="137.3" cy="216.6" r="1.25"/><circle cx="127.1" cy="217.9" r="1.25"/><circle cx="134.4" cy="217.8" r="1.25"/><circle cx="137.2" cy="214.7" r="1.25"/><circle cx="130.2" cy="218.9" r="1.25"/><circle cx="131.9" cy="218.9" r="1.25"/><circle cx="123.9" cy="215.1" r="1.25"/><circle cx="126.8" cy="218.7" r="1.25"/><circle cx="135.9" cy="216.2" r="1.25"/><circle cx="137.1" cy="214.5" r="1.25"/><circle cx="132.0" cy="218.9" r="1.25"/><circle cx="127.9" cy="218.9" r="1.25"/><circle cx="132.9" cy="218.1" r="1.25"/><circle cx="127.8" cy="218.4" r="1.25"/><circle cx="126.4" cy="218.3" r="1.25"/><circle cx="125.3" cy="218.2" r="1.25"/><circle cx="127.2" cy="217.6" r="1.25"/><circle cx="131.3" cy="218.9" r="1.25"/><circle cx="131.2" cy="218.9" r="1.25"/><circle cx="131.9" cy="218.9" r="1.25"/><circle cx="123.0" cy="216.4" r="1.25"/><circle cx="124.0" cy="217.4" r="1.25"/><circle cx="124.6" cy="217.3" r="1.25"/><circle cx="128.1" cy="218.5" r="1.25"/><circle cx="133.0" cy="218.2" r="1.25"/><circle cx="125.2" cy="218.7" r="1.25"/><circle cx="127.7" cy="218.7" r="1.25"/><circle cx="136.3" cy="216.9" r="1.25"/><circle cx="124.9" cy="215.7" r="1.25"/><circle cx="136.4" cy="215.5" r="1.25"/><circle cx="130.3" cy="218.9" r="1.25"/><circle cx="124.4" cy="216.8" r="1.25"/><circle cx="125.1" cy="217.4" r="1.25"/><circle cx="130.5" cy="218.9" r="1.25"/><circle cx="125.6" cy="217.2" r="1.25"/><circle cx="125.7" cy="216.5" r="1.25"/><circle cx="126.3" cy="218.6" r="1.25"/><circle cx="130.4" cy="218.9" r="1.25"/><circle cx="122.7" cy="218.6" r="1.25"/><circle cx="130.2" cy="218.9" r="1.25"/><circle cx="131.5" cy="218.9" r="1.25"/><circle cx="126.1" cy="218.3" r="1.25"/><circle cx="124.9" cy="216.4" r="1.25"/><circle cx="123.0" cy="215.8" r="1.25"/><circle cx="130.7" cy="218.9" r="1.25"/><circle cx="136.6" cy="215.2" r="1.25"/><circle cx="131.6" cy="218.9" r="1.25"/><circle cx="131.9" cy="218.9" r="1.25"/><circle cx="133.7" cy="217.4" r="1.25"/><circle cx="126.4" cy="218.0" r="1.25"/><circle cx="138.0" cy="213.8" r="1.25"/><circle cx="132.3" cy="218.8" r="1.25"/><circle cx="135.4" cy="216.9" r="1.25"/><circle cx="135.3" cy="217.3" r="1.25"/><circle cx="137.0" cy="214.5" r="1.25"/><circle cx="137.4" cy="216.1" r="1.25"/><circle cx="128.9" cy="218.9" r="1.25"/><circle cx="126.4" cy="218.3" r="1.25"/><circle cx="133.2" cy="218.0" r="1.25"/><circle cx="127.9" cy="218.2" r="1.25"/><circle cx="125.6" cy="216.7" r="1.25"/><circle cx="127.7" cy="218.9" r="1.25"/><circle cx="138.2" cy="217.7" r="1.25"/><circle cx="130.1" cy="218.9" r="1.25"/><circle cx="134.8" cy="218.7" r="1.25"/><circle cx="134.4" cy="218.1" r="1.25"/><circle cx="125.6" cy="217.8" r="1.25"/><circle cx="135.9" cy="218.2" r="1.25"/><circle cx="124.0" cy="217.7" r="1.25"/><circle cx="128.0" cy="218.3" r="1.25"/><circle cx="137.8" cy="217.2" r="1.25"/><circle cx="134.3" cy="217.1" r="1.25"/><circle cx="135.6" cy="218.7" r="1.25"/><circle cx="136.8" cy="217.8" r="1.25"/><circle cx="135.6" cy="218.3" r="1.25"/><circle cx="131.8" cy="218.9" r="1.25"/><circle cx="135.5" cy="218.2" r="1.25"/><circle cx="136.3" cy="216.2" r="1.25"/><circle cx="137.7" cy="216.5" r="1.25"/><circle cx="137.4" cy="214.6" r="1.25"/><circle cx="137.8" cy="217.8" r="1.25"/><circle cx="126.5" cy="218.6" r="1.25"/><circle cx="126.2" cy="217.0" r="1.25"/><circle cx="129.7" cy="218.9" r="1.25"/><circle cx="130.3" cy="218.9" r="1.25"/><circle cx="133.3" cy="218.6" r="1.25"/><circle cx="128.7" cy="218.9" r="1.25"/><circle cx="135.0" cy="218.0" r="1.25"/><circle cx="137.4" cy="218.1" r="1.25"/><circle cx="128.9" cy="218.9" r="1.25"/><circle cx="132.8" cy="218.8" r="1.25"/><circle cx="127.9" cy="218.6" r="1.25"/><circle cx="135.7" cy="218.2" r="1.25"/><circle cx="122.6" cy="216.1" r="1.25"/><circle cx="122.8" cy="214.1" r="1.25"/><circle cx="135.3" cy="217.2" r="1.25"/><circle cx="132.1" cy="218.9" r="1.25"/><circle cx="127.8" cy="218.2" r="1.25"/><circle cx="128.1" cy="218.8" r="1.25"/><circle cx="132.3" cy="218.7" r="1.25"/><circle cx="123.9" cy="215.7" r="1.25"/><circle cx="133.6" cy="218.1" r="1.25"/><circle cx="132.9" cy="218.7" r="1.25"/><circle cx="124.4" cy="217.7" r="1.25"/><circle cx="123.2" cy="218.0" r="1.25"/><circle cx="125.4" cy="216.7" r="1.25"/><circle cx="137.6" cy="215.7" r="1.25"/><circle cx="126.0" cy="218.6" r="1.25"/><circle cx="132.1" cy="218.9" r="1.25"/><circle cx="128.7" cy="218.9" r="1.25"/><circle cx="137.6" cy="216.4" r="1.25"/><circle cx="138.1" cy="214.5" r="1.25"/><circle cx="135.6" cy="216.2" r="1.25"/><circle cx="130.8" cy="218.9" r="1.25"/><circle cx="125.3" cy="218.7" r="1.25"/><circle cx="129.7" cy="218.9" r="1.25"/><circle cx="126.5" cy="217.5" r="1.25"/><circle cx="124.1" cy="217.0" r="1.25"/><circle cx="136.1" cy="217.1" r="1.25"/><circle cx="128.5" cy="218.9" r="1.25"/><circle cx="136.6" cy="217.5" r="1.25"/><circle cx="123.7" cy="217.2" r="1.25"/><circle cx="129.5" cy="218.9" r="1.25"/><circle cx="128.2" cy="218.7" r="1.25"/><circle cx="132.5" cy="218.6" r="1.25"/><circle cx="130.8" cy="218.9" r="1.25"/><circle cx="136.8" cy="216.7" r="1.25"/><circle cx="128.2" cy="218.9" r="1.25"/><circle cx="123.4" cy="218.1" r="1.25"/><circle cx="133.3" cy="218.4" r="1.25"/><circle cx="129.6" cy="218.9" r="1.25"/><circle cx="136.6" cy="217.8" r="1.25"/><circle cx="134.3" cy="216.9" r="1.25"/><circle cx="127.6" cy="218.0" r="1.25"/><circle cx="137.6" cy="218.4" r="1.25"/><circle cx="124.8" cy="217.4" r="1.25"/><circle cx="131.6" cy="218.9" r="1.25"/><circle cx="128.7" cy="218.9" r="1.25"/><circle cx="132.6" cy="218.5" r="1.25"/><circle cx="134.5" cy="217.3" r="1.25"/><circle cx="131.1" cy="218.9" r="1.25"/><circle cx="137.9" cy="217.0" r="1.25"/><circle cx="135.2" cy="218.0" r="1.25"/><circle cx="128.5" cy="218.9" r="1.25"/><circle cx="133.7" cy="218.4" r="1.25"/><circle cx="126.9" cy="217.5" r="1.25"/><circle cx="131.6" cy="218.9" r="1.25"/><circle cx="135.0" cy="217.1" r="1.25"/><circle cx="124.7" cy="217.1" r="1.25"/><circle cx="136.4" cy="215.6" r="1.25"/><circle cx="134.2" cy="217.3" r="1.25"/><circle cx="127.4" cy="217.7" r="1.25"/><circle cx="127.2" cy="218.0" r="1.25"/><circle cx="137.8" cy="218.7" r="1.25"/><circle cx="125.5" cy="216.8" r="1.25"/><circle cx="137.4" cy="215.0" r="1.25"/><circle cx="127.6" cy="218.3" r="1.25"/><circle cx="124.2" cy="215.9" r="1.25"/><circle cx="128.7" cy="218.8" r="1.25"/><circle cx="137.7" cy="215.2" r="1.25"/><circle cx="125.7" cy="218.6" r="1.25"/><circle cx="129.6" cy="218.9" r="1.25"/><circle cx="132.6" cy="218.8" r="1.25"/><circle cx="127.5" cy="217.9" r="1.25"/><circle cx="134.5" cy="217.7" r="1.25"/><circle cx="131.3" cy="218.9" r="1.25"/><circle cx="134.4" cy="217.4" r="1.25"/><circle cx="128.2" cy="218.9" r="1.25"/><circle cx="130.9" cy="218.9" r="1.25"/><circle cx="132.5" cy="218.6" r="1.25"/><circle cx="134.7" cy="216.6" r="1.25"/><circle cx="135.6" cy="217.5" r="1.25"/><circle cx="128.1" cy="218.9" r="1.25"/><circle cx="126.7" cy="217.5" r="1.25"/><circle cx="123.6" cy="216.8" r="1.25"/><circle cx="134.4" cy="218.2" r="1.25"/><circle cx="129.0" cy="218.9" r="1.25"/><circle cx="124.3" cy="216.1" r="1.25"/><circle cx="132.7" cy="218.9" r="1.25"/><circle cx="132.5" cy="218.8" r="1.25"/><circle cx="134.7" cy="217.4" r="1.25"/><circle cx="137.4" cy="217.7" r="1.25"/><circle cx="127.9" cy="218.4" r="1.25"/><circle cx="135.2" cy="217.0" r="1.25"/><circle cx="125.4" cy="218.5" r="1.25"/><circle cx="130.9" cy="218.9" r="1.25"/><circle cx="133.1" cy="218.8" r="1.25"/><circle cx="124.6" cy="216.4" r="1.25"/><circle cx="123.5" cy="216.2" r="1.25"/><circle cx="130.4" cy="218.9" r="1.25"/><circle cx="133.0" cy="218.5" r="1.25"/><circle cx="128.9" cy="218.9" r="1.25"/><circle cx="126.8" cy="218.6" r="1.25"/><circle cx="135.0" cy="218.5" r="1.25"/><circle cx="124.9" cy="217.8" r="1.25"/><circle cx="134.4" cy="217.8" r="1.25"/><circle cx="136.7" cy="218.5" r="1.25"/><circle cx="134.2" cy="218.5" r="1.25"/><circle cx="132.7" cy="218.8" r="1.25"/><circle cx="124.6" cy="217.8" r="1.25"/><circle cx="133.6" cy="218.3" r="1.25"/><circle cx="126.8" cy="217.3" r="1.25"/><circle cx="132.0" cy="218.9" r="1.25"/><circle cx="126.8" cy="217.5" r="1.25"/><circle cx="126.0" cy="216.7" r="1.25"/><circle cx="133.2" cy="218.9" r="1.25"/><circle cx="135.2" cy="217.1" r="1.25"/><circle cx="133.5" cy="217.6" r="1.25"/><circle cx="135.7" cy="216.6" r="1.25"/><circle cx="122.6" cy="216.8" r="1.25"/><circle cx="124.7" cy="216.2" r="1.25"/><circle cx="123.4" cy="216.3" r="1.25"/><circle cx="131.3" cy="218.9" r="1.25"/><circle cx="123.1" cy="218.0" r="1.25"/><circle cx="124.3" cy="215.8" r="1.25"/><circle cx="132.4" cy="218.6" r="1.25"/><circle cx="127.7" cy="218.5" r="1.25"/><circle cx="125.9" cy="218.4" r="1.25"/><circle cx="125.8" cy="218.5" r="1.25"/><circle cx="135.3" cy="217.5" r="1.25"/><circle cx="123.0" cy="217.8" r="1.25"/><circle cx="123.0" cy="216.3" r="1.25"/><circle cx="129.2" cy="218.9" r="1.25"/><circle cx="132.5" cy="218.8" r="1.25"/><circle cx="131.7" cy="218.9" r="1.25"/><circle cx="130.6" cy="218.9" r="1.25"/><circle cx="126.1" cy="218.6" r="1.25"/><circle cx="138.2" cy="217.8" r="1.25"/><circle cx="137.7" cy="215.5" r="1.25"/><circle cx="138.1" cy="213.9" r="1.25"/><circle cx="130.1" cy="218.9" r="1.25"/><circle cx="129.7" cy="218.9" r="1.25"/><circle cx="133.7" cy="218.1" r="1.25"/><circle cx="127.9" cy="218.2" r="1.25"/><circle cx="128.9" cy="218.9" r="1.25"/><circle cx="125.6" cy="218.1" r="1.25"/><circle cx="130.7" cy="218.9" r="1.25"/><circle cx="125.6" cy="218.1" r="1.25"/><circle cx="125.6" cy="216.8" r="1.25"/><circle cx="131.4" cy="218.9" r="1.25"/><circle cx="137.9" cy="217.6" r="1.25"/><circle cx="137.5" cy="218.5" r="1.25"/><circle cx="133.9" cy="218.4" r="1.25"/><circle cx="123.5" cy="215.1" r="1.25"/><circle cx="122.7" cy="218.2" r="1.25"/><circle cx="133.9" cy="218.3" r="1.25"/><circle cx="126.7" cy="217.7" r="1.25"/><circle cx="125.1" cy="217.7" r="1.25"/><circle cx="138.2" cy="215.1" r="1.25"/><circle cx="123.2" cy="214.8" r="1.25"/><circle cx="128.1" cy="218.8" r="1.25"/><circle cx="135.2" cy="217.3" r="1.25"/><circle cx="124.1" cy="215.2" r="1.25"/><circle cx="124.9" cy="218.1" r="1.25"/><circle cx="129.9" cy="218.9" r="1.25"/><circle cx="136.9" cy="218.0" r="1.25"/><circle cx="130.0" cy="218.9" r="1.25"/><circle cx="124.5" cy="215.5" r="1.25"/><circle cx="131.4" cy="218.9" r="1.25"/><circle cx="125.8" cy="216.9" r="1.25"/><circle cx="122.8" cy="218.4" r="1.25"/><circle cx="133.7" cy="218.8" r="1.25"/><circle cx="138.0" cy="215.9" r="1.25"/><circle cx="134.1" cy="217.8" r="1.25"/><circle cx="135.3" cy="218.4" r="1.25"/><circle cx="124.6" cy="215.2" r="1.25"/><circle cx="125.9" cy="217.8" r="1.25"/><circle cx="128.5" cy="218.6" r="1.25"/><circle cx="135.6" cy="218.2" r="1.25"/><circle cx="129.8" cy="218.9" r="1.25"/><circle cx="136.5" cy="217.0" r="1.25"/><circle cx="123.6" cy="215.8" r="1.25"/><circle cx="132.4" cy="218.9" r="1.25"/><circle cx="130.2" cy="218.9" r="1.25"/><circle cx="125.8" cy="216.8" r="1.25"/><circle cx="136.8" cy="216.3" r="1.25"/><circle cx="124.1" cy="217.2" r="1.25"/><circle cx="124.5" cy="215.8" r="1.25"/><circle cx="129.7" cy="218.9" r="1.25"/><circle cx="132.6" cy="218.8" r="1.25"/><circle cx="129.4" cy="218.9" r="1.25"/><circle cx="133.9" cy="217.3" r="1.25"/><circle cx="129.9" cy="218.9" r="1.25"/><circle cx="133.1" cy="218.6" r="1.25"/><circle cx="126.3" cy="218.1" r="1.25"/><circle cx="133.4" cy="218.2" r="1.25"/><circle cx="124.7" cy="218.6" r="1.25"/><circle cx="132.0" cy="218.9" r="1.25"/><circle cx="126.3" cy="218.9" r="1.25"/><circle cx="126.1" cy="217.4" r="1.25"/><circle cx="134.9" cy="218.4" r="1.25"/></g>
<g fill="#3c52a8"><circle cx="109.1" cy="200.5" r="1.45"/><circle cx="100.8" cy="215.7" r="1.45"/><circle cx="118.4" cy="214.3" r="1.45"/><circle cx="103.6" cy="214.9" r="1.45"/><circle cx="106.0" cy="213.8" r="1.45"/><circle cx="113.2" cy="205.0" r="1.45"/><circle cx="101.0" cy="215.2" r="1.45"/><circle cx="112.0" cy="212.2" r="1.45"/><circle cx="100.2" cy="209.1" r="1.45"/><circle cx="108.5" cy="213.5" r="1.45"/><circle cx="111.9" cy="211.1" r="1.45"/><circle cx="105.0" cy="194.2" r="1.45"/><circle cx="122.4" cy="215.3" r="1.45"/><circle cx="106.7" cy="205.6" r="1.45"/><circle cx="114.4" cy="210.1" r="1.45"/><circle cx="104.9" cy="197.7" r="1.45"/><circle cx="98.2" cy="201.6" r="1.45"/><circle cx="107.2" cy="194.2" r="1.45"/><circle cx="94.4" cy="213.9" r="1.45"/><circle cx="118.6" cy="212.0" r="1.45"/><circle cx="117.3" cy="215.0" r="1.45"/><circle cx="118.2" cy="212.9" r="1.45"/><circle cx="102.6" cy="190.6" r="1.45"/><circle cx="112.4" cy="214.9" r="1.45"/><circle cx="116.4" cy="207.3" r="1.45"/><circle cx="108.5" cy="207.2" r="1.45"/><circle cx="121.3" cy="213.4" r="1.45"/><circle cx="90.8" cy="216.0" r="1.45"/><circle cx="107.0" cy="202.6" r="1.45"/><circle cx="103.8" cy="212.9" r="1.45"/><circle cx="119.4" cy="212.7" r="1.45"/><circle cx="108.7" cy="205.8" r="1.45"/><circle cx="110.3" cy="202.4" r="1.45"/><circle cx="121.6" cy="215.4" r="1.45"/><circle cx="116.5" cy="214.4" r="1.45"/><circle cx="107.0" cy="212.5" r="1.45"/><circle cx="119.9" cy="215.0" r="1.45"/><circle cx="100.8" cy="203.3" r="1.45"/><circle cx="91.1" cy="214.2" r="1.45"/><circle cx="110.7" cy="203.6" r="1.45"/><circle cx="120.4" cy="215.0" r="1.45"/><circle cx="111.2" cy="213.3" r="1.45"/><circle cx="118.6" cy="210.9" r="1.45"/><circle cx="120.9" cy="212.9" r="1.45"/><circle cx="118.0" cy="210.6" r="1.45"/><circle cx="119.1" cy="213.7" r="1.45"/><circle cx="116.0" cy="210.9" r="1.45"/><circle cx="98.3" cy="213.1" r="1.45"/><circle cx="114.8" cy="214.8" r="1.45"/><circle cx="105.9" cy="215.0" r="1.45"/><circle cx="113.8" cy="214.0" r="1.45"/><circle cx="114.8" cy="214.7" r="1.45"/><circle cx="116.5" cy="208.8" r="1.45"/><circle cx="111.7" cy="215.3" r="1.45"/><circle cx="104.3" cy="206.6" r="1.45"/><circle cx="112.6" cy="213.0" r="1.45"/><circle cx="95.8" cy="213.4" r="1.45"/><circle cx="117.4" cy="213.5" r="1.45"/><circle cx="116.5" cy="214.7" r="1.45"/><circle cx="113.7" cy="213.9" r="1.45"/><circle cx="108.4" cy="207.8" r="1.45"/><circle cx="112.2" cy="213.1" r="1.45"/><circle cx="110.1" cy="204.0" r="1.45"/><circle cx="104.5" cy="193.6" r="1.45"/><circle cx="91.4" cy="213.9" r="1.45"/><circle cx="121.4" cy="213.3" r="1.45"/><circle cx="114.8" cy="214.4" r="1.45"/><circle cx="104.0" cy="206.0" r="1.45"/><circle cx="109.5" cy="213.4" r="1.45"/><circle cx="114.4" cy="213.2" r="1.45"/><circle cx="117.3" cy="210.1" r="1.45"/><circle cx="107.7" cy="215.9" r="1.45"/><circle cx="118.5" cy="209.2" r="1.45"/><circle cx="105.9" cy="214.5" r="1.45"/><circle cx="120.3" cy="214.5" r="1.45"/><circle cx="114.5" cy="210.1" r="1.45"/><circle cx="108.0" cy="193.4" r="1.45"/><circle cx="115.5" cy="215.6" r="1.45"/><circle cx="121.0" cy="216.0" r="1.45"/><circle cx="95.2" cy="209.9" r="1.45"/><circle cx="97.3" cy="197.1" r="1.45"/><circle cx="112.9" cy="214.7" r="1.45"/><circle cx="108.2" cy="206.0" r="1.45"/><circle cx="119.6" cy="215.3" r="1.45"/><circle cx="111.2" cy="213.9" r="1.45"/><circle cx="118.6" cy="213.1" r="1.45"/><circle cx="112.6" cy="203.1" r="1.45"/><circle cx="104.4" cy="204.8" r="1.45"/><circle cx="107.6" cy="197.6" r="1.45"/><circle cx="113.9" cy="203.1" r="1.45"/><circle cx="108.6" cy="213.9" r="1.45"/><circle cx="101.9" cy="213.1" r="1.45"/><circle cx="103.0" cy="214.6" r="1.45"/><circle cx="119.3" cy="212.6" r="1.45"/><circle cx="115.2" cy="215.2" r="1.45"/><circle cx="84.4" cy="206.2" r="1.45"/><circle cx="106.2" cy="209.5" r="1.45"/><circle cx="113.7" cy="216.0" r="1.45"/><circle cx="98.4" cy="204.3" r="1.45"/><circle cx="117.7" cy="212.8" r="1.45"/><circle cx="94.7" cy="205.9" r="1.45"/><circle cx="105.2" cy="212.5" r="1.45"/><circle cx="106.6" cy="216.1" r="1.45"/><circle cx="117.0" cy="207.6" r="1.45"/><circle cx="115.3" cy="208.6" r="1.45"/><circle cx="121.8" cy="215.2" r="1.45"/><circle cx="106.6" cy="212.6" r="1.45"/><circle cx="105.1" cy="211.3" r="1.45"/><circle cx="111.5" cy="215.6" r="1.45"/><circle cx="106.7" cy="210.5" r="1.45"/><circle cx="100.9" cy="215.0" r="1.45"/><circle cx="100.7" cy="198.0" r="1.45"/><circle cx="111.4" cy="214.5" r="1.45"/><circle cx="110.8" cy="214.9" r="1.45"/><circle cx="118.8" cy="212.7" r="1.45"/><circle cx="112.3" cy="201.3" r="1.45"/><circle cx="105.3" cy="213.3" r="1.45"/><circle cx="108.9" cy="202.6" r="1.45"/><circle cx="91.5" cy="213.5" r="1.45"/><circle cx="108.0" cy="212.7" r="1.45"/><circle cx="99.1" cy="201.6" r="1.45"/><circle cx="101.4" cy="211.9" r="1.45"/><circle cx="105.4" cy="215.5" r="1.45"/><circle cx="121.3" cy="215.6" r="1.45"/><circle cx="94.5" cy="209.0" r="1.45"/><circle cx="112.7" cy="211.0" r="1.45"/><circle cx="112.4" cy="198.9" r="1.45"/><circle cx="113.7" cy="212.8" r="1.45"/><circle cx="119.2" cy="211.7" r="1.45"/><circle cx="105.9" cy="199.1" r="1.45"/><circle cx="86.2" cy="205.0" r="1.45"/><circle cx="114.4" cy="204.5" r="1.45"/><circle cx="90.4" cy="214.6" r="1.45"/><circle cx="109.6" cy="212.1" r="1.45"/><circle cx="103.9" cy="199.1" r="1.45"/><circle cx="103.0" cy="214.5" r="1.45"/><circle cx="121.5" cy="214.1" r="1.45"/><circle cx="98.6" cy="214.0" r="1.45"/><circle cx="103.2" cy="209.8" r="1.45"/><circle cx="120.7" cy="213.0" r="1.45"/><circle cx="120.8" cy="212.7" r="1.45"/><circle cx="92.8" cy="189.0" r="1.45"/><circle cx="114.1" cy="201.6" r="1.45"/><circle cx="120.7" cy="213.7" r="1.45"/><circle cx="117.0" cy="212.9" r="1.45"/><circle cx="117.3" cy="214.0" r="1.45"/><circle cx="116.9" cy="213.8" r="1.45"/><circle cx="99.5" cy="193.2" r="1.45"/><circle cx="99.7" cy="212.6" r="1.45"/><circle cx="116.2" cy="211.1" r="1.45"/><circle cx="120.9" cy="213.2" r="1.45"/><circle cx="115.4" cy="204.5" r="1.45"/><circle cx="103.7" cy="212.9" r="1.45"/><circle cx="105.1" cy="199.9" r="1.45"/><circle cx="97.3" cy="191.7" r="1.45"/><circle cx="108.4" cy="215.6" r="1.45"/><circle cx="111.9" cy="209.1" r="1.45"/><circle cx="102.1" cy="198.5" r="1.45"/><circle cx="119.3" cy="211.4" r="1.45"/><circle cx="119.1" cy="215.3" r="1.45"/><circle cx="104.4" cy="213.6" r="1.45"/><circle cx="92.4" cy="208.8" r="1.45"/><circle cx="104.8" cy="211.9" r="1.45"/><circle cx="111.1" cy="214.9" r="1.45"/><circle cx="98.9" cy="207.7" r="1.45"/><circle cx="107.9" cy="213.5" r="1.45"/><circle cx="106.6" cy="214.6" r="1.45"/><circle cx="115.0" cy="215.1" r="1.45"/><circle cx="99.6" cy="198.2" r="1.45"/><circle cx="100.9" cy="213.3" r="1.45"/><circle cx="87.0" cy="213.6" r="1.45"/><circle cx="113.2" cy="203.4" r="1.45"/><circle cx="111.5" cy="197.8" r="1.45"/><circle cx="90.3" cy="206.9" r="1.45"/><circle cx="95.4" cy="211.0" r="1.45"/><circle cx="119.4" cy="215.9" r="1.45"/><circle cx="91.9" cy="189.5" r="1.45"/><circle cx="111.5" cy="214.4" r="1.45"/><circle cx="100.8" cy="209.8" r="1.45"/><circle cx="118.5" cy="212.4" r="1.45"/><circle cx="112.9" cy="208.9" r="1.45"/><circle cx="105.6" cy="200.2" r="1.45"/><circle cx="91.2" cy="213.6" r="1.45"/><circle cx="105.5" cy="200.2" r="1.45"/><circle cx="105.9" cy="212.5" r="1.45"/><circle cx="114.7" cy="215.1" r="1.45"/><circle cx="101.2" cy="203.1" r="1.45"/><circle cx="114.3" cy="204.4" r="1.45"/><circle cx="118.7" cy="213.6" r="1.45"/><circle cx="115.5" cy="205.0" r="1.45"/><circle cx="120.1" cy="213.3" r="1.45"/><circle cx="119.6" cy="211.8" r="1.45"/><circle cx="114.0" cy="213.6" r="1.45"/><circle cx="120.4" cy="214.0" r="1.45"/><circle cx="115.6" cy="211.1" r="1.45"/><circle cx="115.9" cy="214.3" r="1.45"/><circle cx="111.1" cy="216.1" r="1.45"/><circle cx="105.1" cy="211.1" r="1.45"/><circle cx="88.7" cy="210.2" r="1.45"/><circle cx="108.0" cy="200.8" r="1.45"/><circle cx="97.0" cy="198.1" r="1.45"/><circle cx="107.4" cy="211.4" r="1.45"/><circle cx="111.9" cy="210.2" r="1.45"/><circle cx="101.0" cy="215.9" r="1.45"/><circle cx="113.8" cy="208.3" r="1.45"/><circle cx="92.4" cy="211.2" r="1.45"/><circle cx="87.1" cy="204.4" r="1.45"/><circle cx="117.1" cy="210.5" r="1.45"/><circle cx="101.9" cy="212.7" r="1.45"/><circle cx="116.0" cy="211.0" r="1.45"/><circle cx="112.2" cy="212.4" r="1.45"/><circle cx="99.5" cy="214.2" r="1.45"/><circle cx="120.4" cy="213.2" r="1.45"/><circle cx="105.5" cy="188.3" r="1.45"/><circle cx="114.9" cy="213.7" r="1.45"/><circle cx="96.4" cy="210.5" r="1.45"/><circle cx="94.9" cy="200.0" r="1.45"/><circle cx="121.7" cy="214.6" r="1.45"/><circle cx="106.0" cy="204.7" r="1.45"/><circle cx="120.1" cy="213.9" r="1.45"/><circle cx="114.9" cy="210.4" r="1.45"/><circle cx="119.9" cy="213.9" r="1.45"/><circle cx="107.2" cy="215.8" r="1.45"/><circle cx="101.6" cy="206.3" r="1.45"/><circle cx="94.0" cy="205.5" r="1.45"/><circle cx="96.3" cy="187.7" r="1.45"/><circle cx="120.5" cy="214.0" r="1.45"/><circle cx="106.8" cy="216.1" r="1.45"/><circle cx="101.9" cy="207.8" r="1.45"/><circle cx="101.1" cy="210.0" r="1.45"/><circle cx="111.2" cy="201.1" r="1.45"/><circle cx="87.2" cy="205.1" r="1.45"/><circle cx="116.2" cy="212.6" r="1.45"/><circle cx="101.5" cy="198.2" r="1.45"/><circle cx="113.5" cy="212.5" r="1.45"/><circle cx="103.6" cy="214.3" r="1.45"/><circle cx="110.7" cy="209.7" r="1.45"/><circle cx="108.5" cy="215.0" r="1.45"/><circle cx="105.4" cy="213.4" r="1.45"/><circle cx="118.2" cy="210.8" r="1.45"/><circle cx="115.1" cy="206.4" r="1.45"/><circle cx="103.5" cy="209.1" r="1.45"/><circle cx="114.0" cy="214.7" r="1.45"/><circle cx="112.1" cy="200.6" r="1.45"/><circle cx="109.0" cy="210.7" r="1.45"/><circle cx="100.0" cy="215.8" r="1.45"/><circle cx="92.6" cy="215.8" r="1.45"/><circle cx="114.0" cy="201.5" r="1.45"/><circle cx="119.8" cy="214.5" r="1.45"/><circle cx="120.8" cy="213.8" r="1.45"/><circle cx="117.0" cy="214.1" r="1.45"/><circle cx="102.8" cy="204.6" r="1.45"/><circle cx="96.7" cy="209.4" r="1.45"/><circle cx="89.8" cy="197.2" r="1.45"/><circle cx="104.3" cy="213.1" r="1.45"/><circle cx="88.2" cy="214.2" r="1.45"/><circle cx="111.7" cy="210.2" r="1.45"/><circle cx="113.4" cy="212.6" r="1.45"/><circle cx="111.7" cy="199.6" r="1.45"/><circle cx="116.0" cy="207.0" r="1.45"/><circle cx="120.7" cy="212.3" r="1.45"/><circle cx="107.0" cy="211.0" r="1.45"/><circle cx="109.1" cy="207.1" r="1.45"/><circle cx="107.7" cy="211.0" r="1.45"/><circle cx="121.6" cy="216.1" r="1.45"/><circle cx="107.7" cy="202.8" r="1.45"/><circle cx="105.8" cy="216.2" r="1.45"/><circle cx="91.4" cy="205.9" r="1.45"/><circle cx="112.8" cy="211.7" r="1.45"/><circle cx="104.2" cy="212.5" r="1.45"/><circle cx="108.3" cy="214.1" r="1.45"/><circle cx="111.8" cy="211.0" r="1.45"/><circle cx="118.6" cy="214.4" r="1.45"/><circle cx="100.9" cy="214.2" r="1.45"/><circle cx="111.1" cy="206.7" r="1.45"/><circle cx="112.0" cy="216.0" r="1.45"/><circle cx="115.2" cy="213.1" r="1.45"/><circle cx="118.8" cy="215.1" r="1.45"/><circle cx="116.0" cy="211.4" r="1.45"/><circle cx="98.4" cy="209.2" r="1.45"/><circle cx="88.1" cy="205.5" r="1.45"/><circle cx="121.5" cy="215.2" r="1.45"/><circle cx="115.1" cy="211.9" r="1.45"/><circle cx="85.6" cy="212.9" r="1.45"/><circle cx="117.6" cy="211.6" r="1.45"/><circle cx="106.1" cy="209.7" r="1.45"/><circle cx="121.9" cy="214.7" r="1.45"/><circle cx="108.5" cy="214.2" r="1.45"/><circle cx="117.0" cy="214.9" r="1.45"/><circle cx="105.6" cy="207.9" r="1.45"/><circle cx="107.7" cy="209.6" r="1.45"/><circle cx="115.7" cy="213.6" r="1.45"/><circle cx="117.1" cy="212.6" r="1.45"/><circle cx="119.1" cy="210.3" r="1.45"/><circle cx="115.0" cy="214.2" r="1.45"/><circle cx="88.8" cy="215.0" r="1.45"/><circle cx="113.5" cy="213.7" r="1.45"/><circle cx="100.0" cy="208.8" r="1.45"/><circle cx="113.7" cy="214.6" r="1.45"/><circle cx="106.5" cy="206.2" r="1.45"/><circle cx="100.9" cy="214.8" r="1.45"/><circle cx="105.3" cy="211.2" r="1.45"/><circle cx="114.8" cy="216.1" r="1.45"/><circle cx="105.2" cy="193.0" r="1.45"/><circle cx="105.6" cy="214.8" r="1.45"/><circle cx="107.6" cy="216.1" r="1.45"/><circle cx="90.5" cy="198.3" r="1.45"/><circle cx="111.4" cy="213.6" r="1.45"/><circle cx="113.7" cy="211.4" r="1.45"/><circle cx="113.0" cy="205.9" r="1.45"/><circle cx="118.2" cy="208.1" r="1.45"/><circle cx="115.3" cy="203.5" r="1.45"/><circle cx="112.4" cy="212.4" r="1.45"/><circle cx="106.2" cy="198.6" r="1.45"/><circle cx="112.9" cy="210.7" r="1.45"/><circle cx="99.7" cy="208.6" r="1.45"/><circle cx="116.6" cy="211.9" r="1.45"/><circle cx="103.7" cy="200.9" r="1.45"/><circle cx="108.3" cy="203.1" r="1.45"/><circle cx="106.7" cy="212.5" r="1.45"/><circle cx="116.5" cy="215.8" r="1.45"/><circle cx="112.6" cy="203.3" r="1.45"/><circle cx="100.7" cy="213.2" r="1.45"/><circle cx="104.6" cy="208.4" r="1.45"/><circle cx="118.3" cy="208.4" r="1.45"/><circle cx="92.3" cy="194.3" r="1.45"/><circle cx="114.8" cy="209.8" r="1.45"/><circle cx="120.2" cy="212.4" r="1.45"/><circle cx="96.9" cy="211.5" r="1.45"/><circle cx="92.9" cy="209.7" r="1.45"/><circle cx="102.7" cy="210.7" r="1.45"/><circle cx="91.4" cy="209.5" r="1.45"/><circle cx="110.4" cy="212.8" r="1.45"/><circle cx="115.9" cy="210.7" r="1.45"/><circle cx="109.4" cy="213.8" r="1.45"/><circle cx="107.5" cy="205.2" r="1.45"/><circle cx="90.4" cy="213.1" r="1.45"/><circle cx="111.1" cy="211.7" r="1.45"/><circle cx="110.2" cy="207.9" r="1.45"/><circle cx="119.3" cy="211.9" r="1.45"/><circle cx="116.2" cy="215.7" r="1.45"/><circle cx="100.3" cy="212.5" r="1.45"/><circle cx="102.4" cy="194.8" r="1.45"/><circle cx="121.0" cy="212.7" r="1.45"/><circle cx="119.3" cy="216.2" r="1.45"/><circle cx="114.9" cy="208.0" r="1.45"/><circle cx="106.3" cy="207.8" r="1.45"/><circle cx="113.4" cy="210.8" r="1.45"/><circle cx="116.6" cy="211.4" r="1.45"/><circle cx="111.4" cy="212.3" r="1.45"/><circle cx="81.0" cy="210.8" r="1.45"/><circle cx="108.2" cy="207.4" r="1.45"/><circle cx="117.0" cy="209.9" r="1.45"/><circle cx="116.5" cy="210.2" r="1.45"/><circle cx="108.0" cy="203.5" r="1.45"/><circle cx="115.5" cy="213.1" r="1.45"/><circle cx="113.3" cy="208.8" r="1.45"/><circle cx="106.7" cy="212.7" r="1.45"/><circle cx="117.5" cy="206.9" r="1.45"/><circle cx="113.7" cy="205.1" r="1.45"/><circle cx="111.9" cy="205.1" r="1.45"/><circle cx="111.2" cy="213.3" r="1.45"/><circle cx="98.8" cy="206.5" r="1.45"/><circle cx="116.5" cy="209.3" r="1.45"/><circle cx="99.4" cy="203.9" r="1.45"/><circle cx="109.9" cy="215.8" r="1.45"/><circle cx="112.7" cy="216.0" r="1.45"/><circle cx="106.9" cy="207.4" r="1.45"/><circle cx="117.0" cy="215.9" r="1.45"/><circle cx="121.6" cy="215.3" r="1.45"/><circle cx="120.8" cy="214.2" r="1.45"/><circle cx="91.0" cy="192.6" r="1.45"/><circle cx="100.3" cy="200.9" r="1.45"/><circle cx="111.8" cy="205.2" r="1.45"/><circle cx="114.4" cy="213.6" r="1.45"/><circle cx="98.7" cy="212.9" r="1.45"/><circle cx="115.8" cy="213.2" r="1.45"/><circle cx="113.2" cy="215.9" r="1.45"/><circle cx="104.2" cy="192.0" r="1.45"/><circle cx="119.4" cy="211.2" r="1.45"/><circle cx="108.2" cy="210.1" r="1.45"/><circle cx="114.0" cy="208.0" r="1.45"/><circle cx="109.0" cy="208.6" r="1.45"/><circle cx="111.0" cy="213.3" r="1.45"/><circle cx="111.8" cy="205.5" r="1.45"/><circle cx="101.9" cy="203.1" r="1.45"/><circle cx="114.8" cy="203.2" r="1.45"/><circle cx="119.7" cy="215.0" r="1.45"/><circle cx="113.0" cy="214.3" r="1.45"/><circle cx="95.6" cy="210.5" r="1.45"/><circle cx="112.2" cy="209.5" r="1.45"/><circle cx="98.3" cy="216.0" r="1.45"/><circle cx="119.5" cy="215.7" r="1.45"/><circle cx="111.2" cy="207.2" r="1.45"/><circle cx="102.2" cy="211.9" r="1.45"/><circle cx="108.5" cy="210.8" r="1.45"/><circle cx="106.8" cy="214.3" r="1.45"/><circle cx="104.9" cy="214.9" r="1.45"/><circle cx="95.2" cy="215.6" r="1.45"/><circle cx="118.7" cy="212.0" r="1.45"/><circle cx="105.4" cy="214.8" r="1.45"/><circle cx="119.4" cy="215.7" r="1.45"/><circle cx="115.8" cy="211.8" r="1.45"/><circle cx="98.8" cy="208.7" r="1.45"/><circle cx="115.5" cy="203.7" r="1.45"/><circle cx="114.2" cy="206.3" r="1.45"/><circle cx="109.1" cy="194.7" r="1.45"/><circle cx="120.6" cy="212.0" r="1.45"/><circle cx="105.1" cy="213.5" r="1.45"/><circle cx="108.2" cy="203.8" r="1.45"/><circle cx="114.7" cy="211.6" r="1.45"/><circle cx="117.0" cy="214.6" r="1.45"/><circle cx="117.6" cy="207.0" r="1.45"/><circle cx="116.4" cy="213.9" r="1.45"/><circle cx="113.2" cy="210.0" r="1.45"/><circle cx="112.6" cy="212.0" r="1.45"/><circle cx="116.1" cy="209.6" r="1.45"/><circle cx="108.6" cy="195.5" r="1.45"/><circle cx="103.7" cy="212.4" r="1.45"/><circle cx="94.8" cy="213.6" r="1.45"/><circle cx="103.3" cy="212.4" r="1.45"/><circle cx="112.7" cy="209.8" r="1.45"/><circle cx="92.1" cy="213.0" r="1.45"/><circle cx="115.3" cy="215.8" r="1.45"/><circle cx="89.5" cy="212.0" r="1.45"/><circle cx="105.9" cy="215.4" r="1.45"/><circle cx="105.7" cy="216.0" r="1.45"/><circle cx="119.1" cy="215.2" r="1.45"/><circle cx="115.3" cy="212.8" r="1.45"/><circle cx="98.0" cy="215.6" r="1.45"/><circle cx="115.5" cy="205.6" r="1.45"/><circle cx="121.1" cy="215.4" r="1.45"/><circle cx="110.7" cy="201.4" r="1.45"/><circle cx="113.3" cy="213.8" r="1.45"/><circle cx="117.8" cy="212.5" r="1.45"/><circle cx="113.4" cy="213.2" r="1.45"/><circle cx="113.0" cy="208.1" r="1.45"/><circle cx="116.2" cy="210.0" r="1.45"/><circle cx="109.9" cy="213.5" r="1.45"/><circle cx="108.6" cy="197.0" r="1.45"/><circle cx="119.9" cy="212.7" r="1.45"/><circle cx="105.8" cy="215.0" r="1.45"/><circle cx="108.5" cy="202.7" r="1.45"/><circle cx="115.9" cy="209.8" r="1.45"/><circle cx="106.6" cy="200.6" r="1.45"/><circle cx="115.6" cy="206.4" r="1.45"/><circle cx="98.1" cy="213.0" r="1.45"/><circle cx="98.6" cy="191.7" r="1.45"/><circle cx="101.8" cy="208.7" r="1.45"/><circle cx="97.8" cy="194.6" r="1.45"/><circle cx="120.0" cy="214.2" r="1.45"/><circle cx="119.3" cy="211.4" r="1.45"/><circle cx="117.7" cy="212.6" r="1.45"/><circle cx="116.1" cy="216.0" r="1.45"/><circle cx="116.2" cy="216.2" r="1.45"/><circle cx="119.0" cy="212.8" r="1.45"/><circle cx="110.8" cy="208.1" r="1.45"/><circle cx="93.4" cy="214.6" r="1.45"/><circle cx="100.3" cy="202.4" r="1.45"/><circle cx="100.1" cy="214.2" r="1.45"/><circle cx="118.4" cy="210.3" r="1.45"/><circle cx="106.0" cy="206.3" r="1.45"/><circle cx="109.3" cy="205.6" r="1.45"/><circle cx="100.1" cy="206.5" r="1.45"/><circle cx="87.4" cy="210.8" r="1.45"/><circle cx="85.5" cy="198.8" r="1.45"/><circle cx="117.4" cy="214.8" r="1.45"/><circle cx="100.4" cy="212.9" r="1.45"/><circle cx="92.7" cy="214.6" r="1.45"/><circle cx="113.4" cy="211.5" r="1.45"/><circle cx="101.4" cy="204.6" r="1.45"/><circle cx="102.3" cy="206.0" r="1.45"/><circle cx="117.6" cy="208.4" r="1.45"/><circle cx="108.6" cy="208.0" r="1.45"/><circle cx="119.5" cy="211.4" r="1.45"/><circle cx="121.2" cy="215.5" r="1.45"/><circle cx="98.3" cy="202.3" r="1.45"/><circle cx="98.3" cy="206.0" r="1.45"/><circle cx="116.2" cy="208.3" r="1.45"/><circle cx="101.0" cy="205.6" r="1.45"/><circle cx="107.9" cy="212.4" r="1.45"/><circle cx="99.1" cy="190.1" r="1.45"/><circle cx="111.0" cy="210.7" r="1.45"/><circle cx="103.4" cy="205.1" r="1.45"/><circle cx="111.8" cy="201.2" r="1.45"/><circle cx="109.5" cy="208.7" r="1.45"/><circle cx="112.3" cy="202.0" r="1.45"/><circle cx="94.6" cy="215.5" r="1.45"/><circle cx="101.0" cy="213.0" r="1.45"/><circle cx="112.4" cy="205.4" r="1.45"/><circle cx="116.0" cy="211.3" r="1.45"/><circle cx="115.7" cy="207.0" r="1.45"/><circle cx="120.2" cy="214.5" r="1.45"/><circle cx="106.4" cy="206.1" r="1.45"/><circle cx="100.9" cy="208.0" r="1.45"/><circle cx="99.6" cy="196.3" r="1.45"/><circle cx="85.0" cy="196.9" r="1.45"/><circle cx="99.1" cy="215.0" r="1.45"/><circle cx="102.7" cy="204.6" r="1.45"/><circle cx="98.5" cy="186.8" r="1.45"/><circle cx="107.1" cy="202.8" r="1.45"/><circle cx="111.3" cy="212.4" r="1.45"/><circle cx="112.0" cy="214.5" r="1.45"/><circle cx="93.1" cy="213.0" r="1.45"/><circle cx="107.6" cy="214.7" r="1.45"/><circle cx="103.1" cy="211.9" r="1.45"/><circle cx="120.2" cy="214.9" r="1.45"/><circle cx="94.2" cy="214.1" r="1.45"/><circle cx="103.8" cy="215.1" r="1.45"/><circle cx="107.9" cy="192.2" r="1.45"/><circle cx="114.5" cy="215.8" r="1.45"/><circle cx="105.8" cy="198.4" r="1.45"/><circle cx="106.4" cy="214.6" r="1.45"/><circle cx="117.9" cy="212.3" r="1.45"/><circle cx="119.3" cy="211.6" r="1.45"/><circle cx="95.8" cy="204.4" r="1.45"/><circle cx="96.0" cy="212.8" r="1.45"/><circle cx="103.0" cy="214.2" r="1.45"/><circle cx="92.7" cy="210.7" r="1.45"/><circle cx="109.0" cy="200.6" r="1.45"/><circle cx="108.1" cy="211.9" r="1.45"/><circle cx="118.0" cy="209.3" r="1.45"/><circle cx="99.6" cy="210.8" r="1.45"/><circle cx="114.1" cy="210.0" r="1.45"/><circle cx="101.0" cy="201.0" r="1.45"/><circle cx="116.2" cy="210.0" r="1.45"/><circle cx="109.1" cy="210.9" r="1.45"/><circle cx="110.8" cy="209.3" r="1.45"/><circle cx="115.4" cy="211.2" r="1.45"/><circle cx="110.6" cy="207.1" r="1.45"/><circle cx="118.7" cy="211.8" r="1.45"/><circle cx="111.4" cy="213.5" r="1.45"/><circle cx="120.2" cy="211.3" r="1.45"/><circle cx="93.1" cy="213.1" r="1.45"/><circle cx="114.7" cy="207.3" r="1.45"/><circle cx="121.9" cy="215.4" r="1.45"/><circle cx="106.9" cy="210.6" r="1.45"/><circle cx="99.6" cy="212.0" r="1.45"/><circle cx="111.7" cy="203.9" r="1.45"/><circle cx="109.4" cy="212.4" r="1.45"/><circle cx="119.0" cy="213.8" r="1.45"/><circle cx="99.9" cy="209.2" r="1.45"/><circle cx="110.4" cy="203.9" r="1.45"/><circle cx="111.5" cy="213.7" r="1.45"/><circle cx="107.6" cy="207.4" r="1.45"/><circle cx="95.4" cy="198.5" r="1.45"/><circle cx="117.7" cy="213.1" r="1.45"/><circle cx="111.1" cy="196.6" r="1.45"/><circle cx="117.4" cy="213.5" r="1.45"/><circle cx="111.8" cy="199.9" r="1.45"/><circle cx="107.9" cy="199.5" r="1.45"/><circle cx="107.7" cy="213.5" r="1.45"/><circle cx="110.3" cy="201.1" r="1.45"/><circle cx="117.5" cy="211.3" r="1.45"/><circle cx="111.0" cy="214.0" r="1.45"/><circle cx="120.4" cy="215.0" r="1.45"/><circle cx="112.8" cy="212.5" r="1.45"/><circle cx="106.6" cy="206.6" r="1.45"/><circle cx="117.3" cy="213.6" r="1.45"/><circle cx="92.0" cy="215.9" r="1.45"/><circle cx="117.6" cy="216.0" r="1.45"/><circle cx="118.3" cy="213.4" r="1.45"/><circle cx="116.4" cy="214.7" r="1.45"/><circle cx="114.6" cy="212.0" r="1.45"/><circle cx="102.6" cy="201.3" r="1.45"/><circle cx="89.1" cy="198.0" r="1.45"/><circle cx="113.9" cy="211.6" r="1.45"/><circle cx="93.5" cy="205.3" r="1.45"/><circle cx="87.8" cy="190.9" r="1.45"/><circle cx="106.4" cy="213.0" r="1.45"/><circle cx="98.5" cy="211.2" r="1.45"/><circle cx="107.9" cy="213.7" r="1.45"/><circle cx="120.8" cy="214.3" r="1.45"/><circle cx="96.1" cy="214.6" r="1.45"/><circle cx="103.2" cy="208.8" r="1.45"/><circle cx="117.0" cy="210.3" r="1.45"/><circle cx="92.9" cy="213.6" r="1.45"/><circle cx="102.6" cy="200.2" r="1.45"/><circle cx="105.3" cy="211.8" r="1.45"/><circle cx="107.4" cy="209.8" r="1.45"/><circle cx="105.1" cy="205.4" r="1.45"/><circle cx="88.1" cy="209.5" r="1.45"/><circle cx="100.0" cy="212.5" r="1.45"/><circle cx="88.2" cy="212.5" r="1.45"/><circle cx="104.5" cy="213.5" r="1.45"/><circle cx="92.0" cy="203.5" r="1.45"/><circle cx="97.9" cy="200.9" r="1.45"/><circle cx="106.6" cy="208.3" r="1.45"/><circle cx="100.9" cy="214.5" r="1.45"/><circle cx="115.2" cy="212.6" r="1.45"/><circle cx="114.3" cy="204.1" r="1.45"/><circle cx="93.0" cy="207.9" r="1.45"/><circle cx="117.5" cy="214.6" r="1.45"/><circle cx="106.5" cy="201.0" r="1.45"/><circle cx="110.4" cy="198.9" r="1.45"/><circle cx="120.8" cy="213.4" r="1.45"/><circle cx="105.3" cy="200.3" r="1.45"/><circle cx="102.3" cy="207.8" r="1.45"/><circle cx="88.6" cy="204.1" r="1.45"/><circle cx="110.6" cy="208.3" r="1.45"/><circle cx="111.1" cy="214.6" r="1.45"/><circle cx="115.2" cy="209.6" r="1.45"/><circle cx="116.5" cy="210.4" r="1.45"/><circle cx="121.2" cy="216.0" r="1.45"/><circle cx="115.8" cy="209.3" r="1.45"/><circle cx="116.4" cy="213.0" r="1.45"/><circle cx="118.0" cy="208.9" r="1.45"/><circle cx="98.3" cy="213.0" r="1.45"/><circle cx="106.5" cy="197.7" r="1.45"/><circle cx="116.0" cy="213.1" r="1.45"/><circle cx="95.9" cy="193.6" r="1.45"/><circle cx="105.7" cy="209.1" r="1.45"/><circle cx="107.9" cy="208.8" r="1.45"/><circle cx="86.5" cy="205.1" r="1.45"/><circle cx="110.6" cy="209.9" r="1.45"/><circle cx="87.2" cy="201.0" r="1.45"/><circle cx="119.0" cy="211.3" r="1.45"/><circle cx="117.3" cy="209.5" r="1.45"/><circle cx="109.5" cy="204.4" r="1.45"/><circle cx="122.0" cy="214.6" r="1.45"/><circle cx="120.0" cy="211.9" r="1.45"/><circle cx="91.6" cy="207.8" r="1.45"/><circle cx="110.7" cy="212.4" r="1.45"/><circle cx="120.2" cy="212.7" r="1.45"/><circle cx="90.6" cy="214.1" r="1.45"/><circle cx="120.6" cy="213.4" r="1.45"/><circle cx="115.6" cy="208.7" r="1.45"/><circle cx="102.6" cy="189.1" r="1.45"/><circle cx="112.5" cy="202.9" r="1.45"/><circle cx="118.3" cy="214.5" r="1.45"/><circle cx="114.3" cy="207.5" r="1.45"/><circle cx="119.9" cy="211.4" r="1.45"/><circle cx="112.0" cy="216.2" r="1.45"/><circle cx="114.9" cy="215.4" r="1.45"/><circle cx="111.8" cy="211.6" r="1.45"/><circle cx="117.9" cy="212.4" r="1.45"/><circle cx="101.6" cy="198.2" r="1.45"/><circle cx="93.6" cy="203.9" r="1.45"/><circle cx="121.9" cy="214.1" r="1.45"/><circle cx="110.7" cy="209.7" r="1.45"/><circle cx="116.9" cy="215.6" r="1.45"/><circle cx="117.8" cy="215.0" r="1.45"/><circle cx="108.7" cy="202.9" r="1.45"/><circle cx="118.3" cy="215.1" r="1.45"/><circle cx="116.8" cy="213.8" r="1.45"/><circle cx="86.8" cy="212.9" r="1.45"/><circle cx="109.2" cy="203.8" r="1.45"/><circle cx="120.9" cy="214.0" r="1.45"/><circle cx="112.9" cy="208.7" r="1.45"/><circle cx="105.2" cy="190.2" r="1.45"/><circle cx="102.2" cy="214.6" r="1.45"/><circle cx="97.1" cy="202.7" r="1.45"/><circle cx="107.0" cy="197.9" r="1.45"/><circle cx="117.4" cy="214.5" r="1.45"/><circle cx="115.6" cy="214.6" r="1.45"/><circle cx="111.8" cy="206.9" r="1.45"/><circle cx="101.0" cy="215.1" r="1.45"/><circle cx="103.1" cy="207.3" r="1.45"/><circle cx="111.1" cy="214.7" r="1.45"/><circle cx="117.3" cy="210.1" r="1.45"/><circle cx="101.3" cy="197.8" r="1.45"/><circle cx="117.4" cy="214.4" r="1.45"/><circle cx="106.7" cy="210.8" r="1.45"/><circle cx="117.0" cy="211.7" r="1.45"/><circle cx="104.2" cy="191.4" r="1.45"/><circle cx="106.7" cy="210.2" r="1.45"/><circle cx="103.4" cy="206.8" r="1.45"/><circle cx="100.9" cy="212.0" r="1.45"/><circle cx="112.4" cy="206.8" r="1.45"/><circle cx="115.4" cy="206.7" r="1.45"/><circle cx="88.8" cy="214.9" r="1.45"/><circle cx="107.6" cy="204.3" r="1.45"/><circle cx="121.8" cy="216.1" r="1.45"/><circle cx="102.3" cy="214.3" r="1.45"/><circle cx="102.8" cy="214.2" r="1.45"/><circle cx="91.6" cy="200.2" r="1.45"/><circle cx="113.8" cy="212.4" r="1.45"/><circle cx="102.1" cy="203.0" r="1.45"/><circle cx="104.9" cy="208.5" r="1.45"/><circle cx="107.1" cy="209.2" r="1.45"/><circle cx="100.7" cy="207.5" r="1.45"/><circle cx="105.8" cy="208.4" r="1.45"/><circle cx="120.4" cy="211.4" r="1.45"/><circle cx="99.3" cy="210.8" r="1.45"/><circle cx="108.5" cy="215.6" r="1.45"/><circle cx="117.3" cy="212.7" r="1.45"/><circle cx="98.2" cy="206.7" r="1.45"/><circle cx="121.5" cy="214.7" r="1.45"/><circle cx="111.5" cy="205.6" r="1.45"/><circle cx="104.8" cy="202.7" r="1.45"/><circle cx="114.0" cy="209.0" r="1.45"/><circle cx="109.7" cy="213.8" r="1.45"/><circle cx="94.3" cy="193.9" r="1.45"/><circle cx="113.6" cy="213.9" r="1.45"/><circle cx="120.9" cy="216.1" r="1.45"/><circle cx="116.8" cy="205.6" r="1.45"/><circle cx="97.7" cy="211.4" r="1.45"/><circle cx="117.2" cy="212.0" r="1.45"/><circle cx="99.2" cy="215.4" r="1.45"/><circle cx="85.6" cy="214.9" r="1.45"/><circle cx="80.5" cy="212.8" r="1.45"/><circle cx="116.5" cy="206.2" r="1.45"/><circle cx="110.9" cy="213.1" r="1.45"/><circle cx="108.4" cy="215.0" r="1.45"/><circle cx="116.8" cy="214.4" r="1.45"/><circle cx="112.3" cy="212.5" r="1.45"/><circle cx="107.7" cy="194.7" r="1.45"/><circle cx="111.1" cy="214.3" r="1.45"/><circle cx="114.8" cy="213.8" r="1.45"/><circle cx="110.5" cy="209.7" r="1.45"/><circle cx="120.6" cy="212.8" r="1.45"/><circle cx="96.1" cy="191.5" r="1.45"/><circle cx="110.3" cy="210.9" r="1.45"/><circle cx="115.0" cy="213.0" r="1.45"/><circle cx="121.0" cy="213.3" r="1.45"/><circle cx="117.4" cy="208.7" r="1.45"/><circle cx="119.8" cy="214.9" r="1.45"/><circle cx="107.7" cy="210.8" r="1.45"/><circle cx="109.9" cy="199.7" r="1.45"/><circle cx="114.0" cy="202.8" r="1.45"/><circle cx="115.1" cy="213.8" r="1.45"/><circle cx="117.2" cy="213.3" r="1.45"/><circle cx="104.6" cy="212.9" r="1.45"/><circle cx="95.6" cy="213.5" r="1.45"/><circle cx="117.6" cy="208.7" r="1.45"/><circle cx="107.7" cy="216.2" r="1.45"/><circle cx="109.1" cy="213.6" r="1.45"/><circle cx="112.1" cy="212.6" r="1.45"/><circle cx="113.2" cy="215.7" r="1.45"/><circle cx="109.9" cy="197.0" r="1.45"/><circle cx="102.3" cy="210.4" r="1.45"/><circle cx="115.2" cy="209.5" r="1.45"/><circle cx="104.7" cy="202.2" r="1.45"/><circle cx="107.6" cy="204.6" r="1.45"/><circle cx="112.4" cy="215.9" r="1.45"/><circle cx="116.8" cy="215.4" r="1.45"/><circle cx="91.3" cy="196.7" r="1.45"/><circle cx="115.3" cy="214.8" r="1.45"/><circle cx="100.4" cy="198.1" r="1.45"/><circle cx="120.8" cy="216.0" r="1.45"/><circle cx="97.8" cy="195.7" r="1.45"/><circle cx="100.9" cy="206.1" r="1.45"/><circle cx="102.6" cy="185.9" r="1.45"/><circle cx="119.1" cy="211.6" r="1.45"/><circle cx="114.9" cy="214.6" r="1.45"/><circle cx="113.3" cy="202.2" r="1.45"/><circle cx="103.0" cy="211.4" r="1.45"/><circle cx="104.3" cy="202.1" r="1.45"/><circle cx="104.6" cy="206.3" r="1.45"/><circle cx="111.3" cy="215.3" r="1.45"/><circle cx="117.5" cy="214.7" r="1.45"/><circle cx="105.6" cy="201.0" r="1.45"/><circle cx="99.1" cy="205.0" r="1.45"/><circle cx="111.4" cy="210.4" r="1.45"/><circle cx="120.0" cy="212.6" r="1.45"/><circle cx="112.1" cy="208.6" r="1.45"/><circle cx="111.0" cy="204.4" r="1.45"/><circle cx="101.9" cy="210.9" r="1.45"/><circle cx="120.7" cy="214.8" r="1.45"/><circle cx="108.2" cy="214.6" r="1.45"/><circle cx="113.4" cy="216.1" r="1.45"/><circle cx="116.1" cy="213.5" r="1.45"/><circle cx="118.5" cy="212.9" r="1.45"/><circle cx="115.4" cy="211.0" r="1.45"/><circle cx="104.6" cy="208.3" r="1.45"/><circle cx="114.3" cy="213.5" r="1.45"/><circle cx="92.8" cy="214.7" r="1.45"/><circle cx="111.5" cy="214.7" r="1.45"/><circle cx="109.6" cy="203.2" r="1.45"/><circle cx="109.6" cy="210.7" r="1.45"/><circle cx="95.8" cy="188.9" r="1.45"/><circle cx="102.9" cy="214.0" r="1.45"/><circle cx="99.7" cy="195.5" r="1.45"/><circle cx="107.6" cy="213.1" r="1.45"/><circle cx="119.8" cy="214.5" r="1.45"/><circle cx="108.8" cy="204.4" r="1.45"/><circle cx="96.8" cy="200.0" r="1.45"/><circle cx="112.3" cy="214.0" r="1.45"/><circle cx="120.4" cy="215.3" r="1.45"/><circle cx="93.4" cy="203.8" r="1.45"/><circle cx="112.4" cy="215.9" r="1.45"/><circle cx="111.4" cy="205.5" r="1.45"/><circle cx="102.7" cy="213.0" r="1.45"/><circle cx="112.4" cy="211.4" r="1.45"/><circle cx="115.8" cy="209.8" r="1.45"/><circle cx="102.9" cy="207.2" r="1.45"/><circle cx="114.8" cy="213.1" r="1.45"/><circle cx="113.5" cy="209.7" r="1.45"/><circle cx="114.6" cy="211.1" r="1.45"/><circle cx="114.0" cy="207.4" r="1.45"/><circle cx="121.5" cy="214.0" r="1.45"/><circle cx="116.8" cy="208.2" r="1.45"/><circle cx="115.9" cy="214.5" r="1.45"/><circle cx="118.1" cy="211.2" r="1.45"/><circle cx="104.4" cy="208.3" r="1.45"/><circle cx="119.4" cy="210.9" r="1.45"/><circle cx="114.8" cy="206.3" r="1.45"/><circle cx="108.8" cy="205.7" r="1.45"/><circle cx="117.1" cy="215.8" r="1.45"/><circle cx="112.3" cy="206.1" r="1.45"/><circle cx="104.2" cy="210.8" r="1.45"/><circle cx="116.4" cy="212.4" r="1.45"/><circle cx="119.1" cy="212.5" r="1.45"/><circle cx="102.1" cy="201.7" r="1.45"/><circle cx="113.8" cy="212.7" r="1.45"/><circle cx="113.3" cy="215.6" r="1.45"/><circle cx="94.8" cy="206.3" r="1.45"/><circle cx="114.1" cy="214.9" r="1.45"/><circle cx="88.4" cy="201.3" r="1.45"/><circle cx="81.4" cy="205.7" r="1.45"/><circle cx="95.0" cy="214.1" r="1.45"/><circle cx="110.8" cy="209.0" r="1.45"/><circle cx="112.2" cy="211.9" r="1.45"/><circle cx="115.9" cy="209.3" r="1.45"/><circle cx="104.3" cy="188.9" r="1.45"/><circle cx="93.2" cy="209.2" r="1.45"/><circle cx="114.4" cy="207.7" r="1.45"/><circle cx="119.8" cy="212.4" r="1.45"/><circle cx="119.1" cy="215.6" r="1.45"/><circle cx="105.6" cy="215.8" r="1.45"/><circle cx="48.9" cy="193.8" r="1.45"/><circle cx="65.7" cy="153.3" r="1.45"/><circle cx="71.9" cy="157.8" r="1.45"/><circle cx="90.6" cy="162.6" r="1.45"/><circle cx="95.0" cy="165.8" r="1.45"/><circle cx="71.4" cy="166.7" r="1.45"/><circle cx="86.1" cy="168.5" r="1.45"/><circle cx="76.4" cy="169.9" r="1.45"/><circle cx="81.3" cy="172.4" r="1.45"/><circle cx="74.6" cy="174.7" r="1.45"/><circle cx="77.2" cy="174.7" r="1.45"/><circle cx="95.0" cy="176.5" r="1.45"/><circle cx="72.8" cy="177.4" r="1.45"/><circle cx="71.9" cy="178.3" r="1.45"/><circle cx="87.9" cy="177.9" r="1.45"/><circle cx="86.7" cy="178.8" r="1.45"/><circle cx="70.7" cy="180.6" r="1.45"/><circle cx="80.8" cy="180.6" r="1.45"/><circle cx="93.8" cy="180.9" r="1.45"/><circle cx="74.6" cy="183.1" r="1.45"/><circle cx="89.7" cy="182.3" r="1.45"/><circle cx="88.5" cy="183.6" r="1.45"/><circle cx="98.6" cy="183.6" r="1.45"/><circle cx="84.4" cy="184.5" r="1.45"/><circle cx="71.5" cy="179.7" r="1.45"/><circle cx="70.8" cy="182.1" r="1.45"/><circle cx="68.4" cy="187.7" r="1.45"/><circle cx="74.0" cy="183.4" r="1.45"/><circle cx="72.7" cy="185.8" r="1.45"/><circle cx="80.5" cy="185.8" r="1.45"/><circle cx="83.8" cy="183.9" r="1.45"/><circle cx="88.8" cy="182.4" r="1.45"/><circle cx="93.5" cy="180.6" r="1.45"/><circle cx="97.2" cy="183.4" r="1.45"/><circle cx="77.7" cy="191.4" r="1.45"/><circle cx="74.0" cy="194.5" r="1.45"/><circle cx="73.0" cy="200.1" r="1.45"/><circle cx="77.7" cy="201.4" r="1.45"/><circle cx="74.9" cy="204.8" r="1.45"/><circle cx="68.9" cy="210.0" r="1.45"/><circle cx="78.6" cy="204.8" r="1.45"/><circle cx="75.8" cy="212.2" r="1.45"/><circle cx="77.7" cy="214.1" r="1.45"/><circle cx="80.5" cy="210.3" r="1.45"/><circle cx="87.4" cy="177.9" r="1.45"/><circle cx="94.5" cy="176.3" r="1.45"/><circle cx="89.0" cy="181.9" r="1.45"/><circle cx="91.3" cy="185.8" r="1.45"/><circle cx="99.2" cy="183.4" r="1.45"/><circle cx="93.7" cy="181.1" r="1.45"/><circle cx="109.5" cy="189.0" r="1.45"/><circle cx="107.1" cy="192.1" r="1.45"/><circle cx="95.3" cy="189.8" r="1.45"/><circle cx="96.1" cy="192.1" r="1.45"/></g>
<g fill="#e9232c"><circle cx="148.2" cy="214.3" r="1.45"/><circle cx="149.3" cy="205.8" r="1.45"/><circle cx="153.3" cy="213.9" r="1.45"/><circle cx="139.7" cy="215.2" r="1.45"/><circle cx="163.7" cy="213.8" r="1.45"/><circle cx="158.3" cy="191.2" r="1.45"/><circle cx="149.9" cy="213.9" r="1.45"/><circle cx="141.4" cy="213.7" r="1.45"/><circle cx="150.3" cy="199.1" r="1.45"/><circle cx="163.1" cy="215.9" r="1.45"/><circle cx="142.2" cy="210.8" r="1.45"/><circle cx="163.9" cy="214.0" r="1.45"/><circle cx="148.8" cy="199.8" r="1.45"/><circle cx="147.6" cy="214.0" r="1.45"/><circle cx="139.3" cy="214.1" r="1.45"/><circle cx="148.4" cy="208.4" r="1.45"/><circle cx="180.5" cy="201.0" r="1.45"/><circle cx="162.9" cy="208.1" r="1.45"/><circle cx="154.2" cy="215.7" r="1.45"/><circle cx="147.3" cy="209.5" r="1.45"/><circle cx="142.6" cy="211.0" r="1.45"/><circle cx="147.4" cy="202.9" r="1.45"/><circle cx="147.1" cy="208.5" r="1.45"/><circle cx="141.9" cy="214.8" r="1.45"/><circle cx="151.0" cy="215.7" r="1.45"/><circle cx="163.0" cy="196.4" r="1.45"/><circle cx="143.5" cy="206.0" r="1.45"/><circle cx="152.9" cy="213.1" r="1.45"/><circle cx="152.8" cy="200.8" r="1.45"/><circle cx="139.7" cy="211.8" r="1.45"/><circle cx="142.1" cy="215.5" r="1.45"/><circle cx="151.3" cy="201.3" r="1.45"/><circle cx="171.1" cy="202.1" r="1.45"/><circle cx="170.2" cy="205.1" r="1.45"/><circle cx="147.6" cy="210.4" r="1.45"/><circle cx="146.8" cy="216.1" r="1.45"/><circle cx="143.8" cy="212.3" r="1.45"/><circle cx="150.7" cy="203.7" r="1.45"/><circle cx="156.6" cy="214.5" r="1.45"/><circle cx="149.9" cy="197.7" r="1.45"/><circle cx="147.1" cy="215.5" r="1.45"/><circle cx="150.0" cy="215.3" r="1.45"/><circle cx="148.3" cy="213.0" r="1.45"/><circle cx="163.8" cy="198.1" r="1.45"/><circle cx="159.2" cy="214.5" r="1.45"/><circle cx="143.6" cy="213.4" r="1.45"/><circle cx="163.8" cy="194.9" r="1.45"/><circle cx="138.4" cy="215.0" r="1.45"/><circle cx="156.9" cy="214.7" r="1.45"/><circle cx="164.2" cy="202.5" r="1.45"/><circle cx="173.3" cy="204.3" r="1.45"/><circle cx="146.9" cy="209.2" r="1.45"/><circle cx="152.1" cy="194.6" r="1.45"/><circle cx="146.1" cy="210.5" r="1.45"/><circle cx="141.6" cy="213.1" r="1.45"/><circle cx="183.6" cy="210.7" r="1.45"/><circle cx="157.1" cy="209.8" r="1.45"/><circle cx="164.2" cy="190.0" r="1.45"/><circle cx="150.6" cy="204.7" r="1.45"/><circle cx="152.2" cy="203.3" r="1.45"/><circle cx="162.6" cy="201.5" r="1.45"/><circle cx="146.9" cy="207.7" r="1.45"/><circle cx="148.5" cy="215.7" r="1.45"/><circle cx="143.8" cy="215.4" r="1.45"/><circle cx="151.8" cy="213.1" r="1.45"/><circle cx="162.9" cy="210.3" r="1.45"/><circle cx="159.1" cy="197.8" r="1.45"/><circle cx="161.6" cy="211.0" r="1.45"/><circle cx="145.0" cy="208.3" r="1.45"/><circle cx="153.0" cy="204.4" r="1.45"/><circle cx="153.1" cy="202.8" r="1.45"/><circle cx="147.0" cy="210.9" r="1.45"/><circle cx="178.3" cy="191.1" r="1.45"/><circle cx="144.1" cy="210.5" r="1.45"/><circle cx="172.4" cy="215.2" r="1.45"/><circle cx="162.0" cy="182.4" r="1.45"/><circle cx="151.5" cy="207.5" r="1.45"/><circle cx="167.0" cy="209.2" r="1.45"/><circle cx="151.6" cy="197.6" r="1.45"/><circle cx="139.3" cy="214.7" r="1.45"/><circle cx="167.4" cy="208.2" r="1.45"/><circle cx="155.4" cy="213.1" r="1.45"/><circle cx="160.6" cy="188.9" r="1.45"/><circle cx="175.8" cy="194.2" r="1.45"/><circle cx="159.2" cy="198.9" r="1.45"/><circle cx="152.4" cy="212.7" r="1.45"/><circle cx="143.6" cy="209.3" r="1.45"/><circle cx="163.2" cy="189.7" r="1.45"/><circle cx="139.1" cy="215.0" r="1.45"/><circle cx="143.3" cy="214.7" r="1.45"/><circle cx="176.4" cy="208.4" r="1.45"/><circle cx="148.0" cy="198.8" r="1.45"/><circle cx="145.7" cy="205.4" r="1.45"/><circle cx="178.4" cy="210.5" r="1.45"/><circle cx="147.8" cy="204.8" r="1.45"/><circle cx="140.2" cy="213.4" r="1.45"/><circle cx="145.5" cy="215.0" r="1.45"/><circle cx="173.1" cy="213.5" r="1.45"/><circle cx="165.7" cy="215.3" r="1.45"/><circle cx="151.6" cy="213.4" r="1.45"/><circle cx="156.2" cy="206.2" r="1.45"/><circle cx="145.2" cy="207.2" r="1.45"/><circle cx="147.7" cy="210.4" r="1.45"/><circle cx="177.2" cy="212.4" r="1.45"/><circle cx="151.7" cy="206.4" r="1.45"/><circle cx="139.4" cy="214.0" r="1.45"/><circle cx="140.3" cy="212.6" r="1.45"/><circle cx="141.7" cy="211.2" r="1.45"/><circle cx="140.9" cy="213.4" r="1.45"/><circle cx="152.9" cy="201.1" r="1.45"/><circle cx="152.6" cy="206.4" r="1.45"/><circle cx="150.2" cy="197.5" r="1.45"/><circle cx="145.7" cy="214.4" r="1.45"/><circle cx="163.7" cy="208.0" r="1.45"/><circle cx="142.0" cy="212.0" r="1.45"/><circle cx="175.1" cy="184.5" r="1.45"/><circle cx="138.6" cy="213.7" r="1.45"/><circle cx="150.5" cy="199.3" r="1.45"/><circle cx="145.6" cy="206.5" r="1.45"/><circle cx="142.4" cy="213.8" r="1.45"/><circle cx="164.3" cy="201.3" r="1.45"/><circle cx="164.9" cy="210.1" r="1.45"/><circle cx="149.2" cy="210.5" r="1.45"/><circle cx="160.9" cy="212.0" r="1.45"/><circle cx="151.6" cy="202.0" r="1.45"/><circle cx="143.3" cy="214.6" r="1.45"/><circle cx="146.8" cy="203.2" r="1.45"/><circle cx="160.0" cy="212.2" r="1.45"/><circle cx="140.9" cy="209.8" r="1.45"/><circle cx="158.9" cy="211.5" r="1.45"/><circle cx="151.1" cy="215.5" r="1.45"/><circle cx="147.0" cy="214.0" r="1.45"/><circle cx="145.2" cy="203.9" r="1.45"/><circle cx="149.3" cy="208.7" r="1.45"/><circle cx="142.6" cy="212.5" r="1.45"/><circle cx="172.8" cy="184.2" r="1.45"/><circle cx="148.5" cy="212.2" r="1.45"/><circle cx="138.5" cy="215.7" r="1.45"/><circle cx="152.0" cy="203.3" r="1.45"/><circle cx="146.5" cy="211.9" r="1.45"/><circle cx="144.9" cy="214.7" r="1.45"/><circle cx="149.4" cy="211.8" r="1.45"/><circle cx="153.7" cy="212.8" r="1.45"/><circle cx="153.2" cy="199.4" r="1.45"/><circle cx="160.5" cy="191.0" r="1.45"/><circle cx="150.0" cy="210.8" r="1.45"/><circle cx="176.4" cy="208.9" r="1.45"/><circle cx="160.3" cy="196.4" r="1.45"/><circle cx="161.6" cy="188.0" r="1.45"/><circle cx="146.0" cy="207.4" r="1.45"/><circle cx="158.5" cy="197.6" r="1.45"/><circle cx="138.7" cy="215.9" r="1.45"/><circle cx="146.2" cy="214.3" r="1.45"/><circle cx="161.8" cy="214.5" r="1.45"/><circle cx="165.5" cy="211.7" r="1.45"/><circle cx="152.7" cy="206.9" r="1.45"/><circle cx="149.8" cy="202.1" r="1.45"/><circle cx="176.1" cy="203.8" r="1.45"/><circle cx="148.2" cy="205.3" r="1.45"/><circle cx="171.9" cy="191.2" r="1.45"/><circle cx="148.3" cy="208.5" r="1.45"/><circle cx="139.6" cy="214.4" r="1.45"/><circle cx="163.9" cy="212.6" r="1.45"/><circle cx="155.9" cy="187.5" r="1.45"/><circle cx="145.9" cy="209.8" r="1.45"/><circle cx="164.0" cy="207.5" r="1.45"/><circle cx="145.2" cy="211.7" r="1.45"/><circle cx="146.9" cy="215.9" r="1.45"/><circle cx="180.0" cy="210.2" r="1.45"/><circle cx="141.2" cy="215.0" r="1.45"/><circle cx="141.2" cy="213.2" r="1.45"/><circle cx="162.5" cy="203.5" r="1.45"/><circle cx="147.4" cy="212.8" r="1.45"/><circle cx="145.8" cy="211.5" r="1.45"/><circle cx="149.9" cy="214.0" r="1.45"/><circle cx="150.2" cy="212.6" r="1.45"/><circle cx="159.5" cy="215.0" r="1.45"/><circle cx="145.2" cy="210.3" r="1.45"/><circle cx="156.7" cy="210.4" r="1.45"/><circle cx="150.6" cy="207.9" r="1.45"/><circle cx="146.5" cy="203.0" r="1.45"/><circle cx="152.3" cy="212.9" r="1.45"/><circle cx="161.5" cy="213.0" r="1.45"/><circle cx="177.0" cy="215.4" r="1.45"/><circle cx="177.8" cy="212.2" r="1.45"/><circle cx="138.4" cy="213.8" r="1.45"/><circle cx="143.9" cy="214.6" r="1.45"/><circle cx="146.4" cy="208.7" r="1.45"/><circle cx="155.4" cy="204.3" r="1.45"/><circle cx="167.0" cy="201.6" r="1.45"/><circle cx="147.8" cy="212.9" r="1.45"/><circle cx="143.2" cy="211.8" r="1.45"/><circle cx="149.5" cy="213.5" r="1.45"/><circle cx="142.1" cy="212.1" r="1.45"/><circle cx="155.2" cy="210.7" r="1.45"/><circle cx="148.6" cy="215.9" r="1.45"/><circle cx="172.7" cy="198.8" r="1.45"/><circle cx="150.7" cy="214.8" r="1.45"/><circle cx="160.0" cy="178.6" r="1.45"/><circle cx="163.3" cy="179.0" r="1.45"/><circle cx="153.1" cy="205.2" r="1.45"/><circle cx="167.8" cy="187.9" r="1.45"/><circle cx="152.4" cy="207.2" r="1.45"/><circle cx="147.1" cy="203.8" r="1.45"/><circle cx="141.4" cy="210.8" r="1.45"/><circle cx="162.0" cy="183.6" r="1.45"/><circle cx="153.5" cy="195.8" r="1.45"/><circle cx="147.4" cy="201.3" r="1.45"/><circle cx="152.3" cy="216.0" r="1.45"/><circle cx="160.4" cy="215.5" r="1.45"/><circle cx="158.7" cy="188.3" r="1.45"/><circle cx="164.1" cy="210.9" r="1.45"/><circle cx="172.4" cy="208.0" r="1.45"/><circle cx="139.8" cy="216.0" r="1.45"/><circle cx="142.2" cy="214.2" r="1.45"/><circle cx="160.4" cy="211.1" r="1.45"/><circle cx="178.5" cy="196.4" r="1.45"/><circle cx="158.0" cy="201.0" r="1.45"/><circle cx="153.2" cy="208.9" r="1.45"/><circle cx="155.4" cy="201.7" r="1.45"/><circle cx="140.1" cy="211.3" r="1.45"/><circle cx="146.5" cy="215.8" r="1.45"/><circle cx="158.4" cy="209.5" r="1.45"/><circle cx="150.5" cy="207.6" r="1.45"/><circle cx="185.7" cy="210.9" r="1.45"/><circle cx="177.9" cy="209.7" r="1.45"/><circle cx="145.3" cy="209.5" r="1.45"/><circle cx="153.2" cy="212.6" r="1.45"/><circle cx="157.9" cy="190.1" r="1.45"/><circle cx="152.5" cy="215.0" r="1.45"/><circle cx="146.6" cy="210.7" r="1.45"/><circle cx="150.2" cy="207.3" r="1.45"/><circle cx="146.0" cy="202.7" r="1.45"/><circle cx="142.5" cy="210.5" r="1.45"/><circle cx="140.9" cy="214.0" r="1.45"/><circle cx="168.1" cy="181.5" r="1.45"/><circle cx="142.9" cy="214.9" r="1.45"/><circle cx="140.4" cy="213.8" r="1.45"/><circle cx="143.4" cy="214.4" r="1.45"/><circle cx="140.0" cy="214.2" r="1.45"/><circle cx="161.9" cy="197.8" r="1.45"/><circle cx="139.4" cy="215.3" r="1.45"/><circle cx="177.7" cy="211.8" r="1.45"/><circle cx="169.7" cy="191.7" r="1.45"/><circle cx="138.9" cy="214.4" r="1.45"/><circle cx="151.5" cy="213.4" r="1.45"/><circle cx="152.3" cy="196.7" r="1.45"/><circle cx="151.0" cy="195.7" r="1.45"/><circle cx="150.7" cy="215.0" r="1.45"/><circle cx="165.9" cy="189.9" r="1.45"/><circle cx="147.5" cy="200.6" r="1.45"/><circle cx="148.0" cy="210.4" r="1.45"/><circle cx="147.5" cy="211.9" r="1.45"/><circle cx="164.3" cy="194.0" r="1.45"/><circle cx="149.4" cy="201.1" r="1.45"/><circle cx="146.1" cy="203.7" r="1.45"/><circle cx="152.8" cy="213.9" r="1.45"/><circle cx="142.1" cy="209.6" r="1.45"/><circle cx="155.2" cy="208.0" r="1.45"/><circle cx="178.9" cy="207.9" r="1.45"/><circle cx="165.0" cy="187.8" r="1.45"/><circle cx="143.2" cy="213.4" r="1.45"/><circle cx="159.2" cy="206.8" r="1.45"/><circle cx="143.8" cy="205.3" r="1.45"/><circle cx="169.9" cy="190.8" r="1.45"/><circle cx="143.6" cy="212.7" r="1.45"/><circle cx="146.5" cy="213.6" r="1.45"/><circle cx="151.8" cy="206.9" r="1.45"/><circle cx="143.4" cy="215.7" r="1.45"/><circle cx="161.5" cy="191.7" r="1.45"/><circle cx="165.1" cy="210.1" r="1.45"/><circle cx="151.8" cy="202.3" r="1.45"/><circle cx="155.8" cy="187.0" r="1.45"/><circle cx="155.9" cy="212.7" r="1.45"/><circle cx="141.8" cy="215.4" r="1.45"/><circle cx="148.5" cy="214.6" r="1.45"/><circle cx="140.9" cy="212.8" r="1.45"/><circle cx="170.5" cy="189.0" r="1.45"/><circle cx="140.5" cy="213.5" r="1.45"/><circle cx="143.5" cy="215.4" r="1.45"/><circle cx="141.1" cy="210.4" r="1.45"/><circle cx="153.8" cy="213.2" r="1.45"/><circle cx="154.8" cy="215.4" r="1.45"/><circle cx="146.3" cy="210.9" r="1.45"/><circle cx="156.7" cy="194.1" r="1.45"/><circle cx="153.0" cy="212.3" r="1.45"/><circle cx="153.4" cy="215.9" r="1.45"/><circle cx="161.5" cy="176.6" r="1.45"/><circle cx="151.6" cy="203.5" r="1.45"/><circle cx="156.9" cy="204.4" r="1.45"/><circle cx="145.1" cy="209.0" r="1.45"/><circle cx="144.7" cy="211.8" r="1.45"/><circle cx="165.9" cy="205.5" r="1.45"/><circle cx="162.1" cy="213.8" r="1.45"/><circle cx="157.6" cy="207.6" r="1.45"/><circle cx="150.3" cy="197.7" r="1.45"/><circle cx="143.7" cy="214.0" r="1.45"/><circle cx="149.0" cy="207.1" r="1.45"/><circle cx="166.4" cy="197.2" r="1.45"/><circle cx="156.2" cy="201.5" r="1.45"/><circle cx="156.1" cy="213.6" r="1.45"/><circle cx="149.9" cy="212.4" r="1.45"/><circle cx="154.8" cy="197.0" r="1.45"/><circle cx="156.9" cy="198.3" r="1.45"/><circle cx="168.9" cy="214.5" r="1.45"/><circle cx="157.3" cy="215.9" r="1.45"/><circle cx="150.8" cy="202.8" r="1.45"/><circle cx="158.5" cy="213.9" r="1.45"/><circle cx="143.6" cy="212.0" r="1.45"/><circle cx="140.3" cy="211.8" r="1.45"/><circle cx="173.5" cy="201.9" r="1.45"/><circle cx="177.3" cy="206.4" r="1.45"/><circle cx="151.9" cy="216.1" r="1.45"/><circle cx="145.2" cy="215.7" r="1.45"/><circle cx="147.8" cy="203.2" r="1.45"/><circle cx="138.7" cy="214.1" r="1.45"/><circle cx="152.7" cy="207.1" r="1.45"/><circle cx="179.4" cy="190.0" r="1.45"/><circle cx="153.9" cy="200.0" r="1.45"/><circle cx="147.8" cy="207.8" r="1.45"/><circle cx="148.9" cy="214.5" r="1.45"/><circle cx="144.8" cy="203.9" r="1.45"/><circle cx="156.1" cy="187.0" r="1.45"/><circle cx="155.3" cy="207.8" r="1.45"/><circle cx="154.1" cy="212.2" r="1.45"/><circle cx="150.5" cy="215.8" r="1.45"/><circle cx="141.0" cy="212.8" r="1.45"/><circle cx="176.2" cy="199.5" r="1.45"/><circle cx="140.4" cy="214.6" r="1.45"/><circle cx="147.7" cy="199.9" r="1.45"/><circle cx="153.1" cy="212.7" r="1.45"/><circle cx="179.5" cy="196.7" r="1.45"/><circle cx="145.7" cy="206.7" r="1.45"/><circle cx="146.3" cy="213.8" r="1.45"/><circle cx="167.2" cy="194.5" r="1.45"/><circle cx="145.9" cy="211.2" r="1.45"/><circle cx="148.9" cy="209.6" r="1.45"/><circle cx="160.7" cy="215.3" r="1.45"/><circle cx="151.2" cy="208.9" r="1.45"/><circle cx="178.0" cy="203.1" r="1.45"/><circle cx="148.8" cy="212.3" r="1.45"/><circle cx="158.1" cy="204.6" r="1.45"/><circle cx="150.7" cy="195.5" r="1.45"/><circle cx="148.4" cy="213.7" r="1.45"/><circle cx="146.1" cy="215.0" r="1.45"/><circle cx="144.4" cy="213.6" r="1.45"/><circle cx="145.6" cy="215.0" r="1.45"/><circle cx="150.2" cy="211.6" r="1.45"/><circle cx="171.3" cy="215.9" r="1.45"/><circle cx="154.3" cy="200.9" r="1.45"/><circle cx="146.8" cy="206.6" r="1.45"/><circle cx="147.7" cy="209.0" r="1.45"/><circle cx="162.1" cy="187.2" r="1.45"/><circle cx="158.4" cy="204.3" r="1.45"/><circle cx="139.9" cy="211.7" r="1.45"/><circle cx="172.3" cy="207.1" r="1.45"/><circle cx="147.0" cy="214.2" r="1.45"/><circle cx="156.1" cy="203.4" r="1.45"/><circle cx="158.2" cy="209.0" r="1.45"/><circle cx="172.0" cy="215.8" r="1.45"/><circle cx="141.8" cy="209.7" r="1.45"/><circle cx="162.3" cy="214.2" r="1.45"/><circle cx="141.4" cy="213.8" r="1.45"/><circle cx="149.2" cy="213.7" r="1.45"/><circle cx="142.6" cy="214.9" r="1.45"/><circle cx="171.5" cy="191.7" r="1.45"/><circle cx="186.9" cy="212.1" r="1.45"/><circle cx="142.0" cy="212.4" r="1.45"/><circle cx="150.9" cy="200.4" r="1.45"/><circle cx="147.9" cy="209.5" r="1.45"/><circle cx="149.3" cy="200.4" r="1.45"/><circle cx="143.5" cy="214.2" r="1.45"/><circle cx="170.7" cy="215.0" r="1.45"/><circle cx="149.8" cy="211.7" r="1.45"/><circle cx="145.9" cy="213.8" r="1.45"/><circle cx="148.7" cy="210.8" r="1.45"/><circle cx="159.9" cy="206.1" r="1.45"/><circle cx="145.9" cy="206.3" r="1.45"/><circle cx="165.8" cy="210.0" r="1.45"/><circle cx="154.1" cy="211.9" r="1.45"/><circle cx="157.4" cy="209.1" r="1.45"/><circle cx="161.9" cy="213.5" r="1.45"/><circle cx="169.2" cy="206.2" r="1.45"/><circle cx="142.4" cy="207.9" r="1.45"/><circle cx="147.9" cy="203.1" r="1.45"/><circle cx="142.7" cy="215.0" r="1.45"/><circle cx="151.0" cy="194.1" r="1.45"/><circle cx="153.4" cy="207.3" r="1.45"/><circle cx="163.1" cy="215.8" r="1.45"/><circle cx="140.1" cy="215.8" r="1.45"/><circle cx="148.6" cy="203.2" r="1.45"/><circle cx="138.3" cy="215.5" r="1.45"/><circle cx="147.3" cy="202.7" r="1.45"/><circle cx="161.7" cy="198.3" r="1.45"/><circle cx="174.3" cy="196.2" r="1.45"/><circle cx="169.7" cy="213.9" r="1.45"/><circle cx="160.3" cy="209.4" r="1.45"/><circle cx="170.6" cy="188.9" r="1.45"/><circle cx="181.5" cy="191.7" r="1.45"/><circle cx="157.7" cy="215.1" r="1.45"/><circle cx="148.2" cy="201.5" r="1.45"/><circle cx="154.4" cy="208.8" r="1.45"/><circle cx="168.1" cy="208.1" r="1.45"/><circle cx="147.8" cy="204.6" r="1.45"/><circle cx="161.5" cy="210.6" r="1.45"/><circle cx="142.6" cy="207.4" r="1.45"/><circle cx="151.7" cy="213.2" r="1.45"/><circle cx="187.2" cy="204.0" r="1.45"/><circle cx="155.0" cy="206.9" r="1.45"/><circle cx="149.1" cy="214.5" r="1.45"/><circle cx="146.1" cy="215.6" r="1.45"/><circle cx="141.9" cy="209.0" r="1.45"/><circle cx="151.6" cy="212.8" r="1.45"/><circle cx="146.7" cy="210.6" r="1.45"/><circle cx="150.7" cy="214.6" r="1.45"/><circle cx="151.9" cy="204.6" r="1.45"/><circle cx="145.8" cy="205.6" r="1.45"/><circle cx="147.1" cy="208.0" r="1.45"/><circle cx="150.9" cy="215.1" r="1.45"/><circle cx="142.5" cy="210.1" r="1.45"/><circle cx="149.3" cy="208.0" r="1.45"/><circle cx="140.1" cy="211.7" r="1.45"/><circle cx="165.9" cy="214.8" r="1.45"/><circle cx="138.6" cy="214.0" r="1.45"/><circle cx="143.0" cy="213.6" r="1.45"/><circle cx="145.5" cy="208.3" r="1.45"/><circle cx="186.6" cy="206.6" r="1.45"/><circle cx="151.4" cy="213.6" r="1.45"/><circle cx="165.8" cy="213.5" r="1.45"/><circle cx="153.5" cy="191.1" r="1.45"/><circle cx="158.4" cy="209.3" r="1.45"/><circle cx="144.1" cy="209.2" r="1.45"/><circle cx="144.1" cy="211.8" r="1.45"/><circle cx="145.7" cy="209.6" r="1.45"/><circle cx="144.8" cy="206.6" r="1.45"/><circle cx="156.2" cy="194.9" r="1.45"/><circle cx="177.3" cy="202.9" r="1.45"/><circle cx="144.5" cy="216.0" r="1.45"/><circle cx="147.8" cy="208.5" r="1.45"/><circle cx="157.8" cy="196.7" r="1.45"/><circle cx="152.5" cy="204.5" r="1.45"/><circle cx="156.5" cy="204.8" r="1.45"/><circle cx="147.0" cy="204.9" r="1.45"/><circle cx="155.2" cy="209.0" r="1.45"/><circle cx="157.4" cy="207.9" r="1.45"/><circle cx="152.5" cy="207.9" r="1.45"/><circle cx="157.4" cy="207.8" r="1.45"/><circle cx="143.8" cy="206.2" r="1.45"/><circle cx="150.1" cy="215.5" r="1.45"/><circle cx="154.6" cy="194.1" r="1.45"/><circle cx="156.1" cy="206.6" r="1.45"/><circle cx="165.0" cy="193.9" r="1.45"/><circle cx="147.5" cy="208.2" r="1.45"/><circle cx="146.9" cy="205.5" r="1.45"/><circle cx="160.9" cy="177.7" r="1.45"/><circle cx="161.0" cy="208.3" r="1.45"/><circle cx="145.2" cy="208.2" r="1.45"/><circle cx="143.6" cy="206.9" r="1.45"/><circle cx="162.3" cy="215.0" r="1.45"/><circle cx="148.7" cy="198.2" r="1.45"/><circle cx="164.7" cy="207.7" r="1.45"/><circle cx="147.1" cy="211.8" r="1.45"/><circle cx="151.4" cy="205.8" r="1.45"/><circle cx="151.3" cy="212.5" r="1.45"/><circle cx="149.2" cy="212.6" r="1.45"/><circle cx="148.2" cy="209.3" r="1.45"/><circle cx="155.9" cy="207.9" r="1.45"/><circle cx="148.5" cy="201.0" r="1.45"/><circle cx="153.0" cy="202.3" r="1.45"/><circle cx="168.5" cy="215.9" r="1.45"/><circle cx="182.3" cy="199.5" r="1.45"/><circle cx="167.0" cy="200.3" r="1.45"/><circle cx="160.9" cy="213.6" r="1.45"/><circle cx="162.0" cy="209.6" r="1.45"/><circle cx="142.0" cy="215.4" r="1.45"/><circle cx="140.7" cy="210.2" r="1.45"/><circle cx="140.4" cy="215.3" r="1.45"/><circle cx="140.1" cy="215.2" r="1.45"/><circle cx="152.4" cy="214.9" r="1.45"/><circle cx="171.4" cy="195.7" r="1.45"/><circle cx="139.0" cy="214.5" r="1.45"/><circle cx="168.9" cy="191.8" r="1.45"/><circle cx="151.2" cy="200.9" r="1.45"/><circle cx="147.0" cy="207.3" r="1.45"/><circle cx="161.4" cy="209.9" r="1.45"/><circle cx="180.6" cy="208.8" r="1.45"/><circle cx="145.5" cy="207.2" r="1.45"/><circle cx="158.1" cy="212.5" r="1.45"/><circle cx="146.6" cy="210.3" r="1.45"/><circle cx="152.7" cy="211.8" r="1.45"/><circle cx="141.6" cy="209.8" r="1.45"/><circle cx="164.7" cy="188.9" r="1.45"/><circle cx="144.7" cy="205.5" r="1.45"/><circle cx="176.7" cy="214.4" r="1.45"/><circle cx="144.7" cy="212.3" r="1.45"/><circle cx="162.0" cy="209.9" r="1.45"/><circle cx="146.8" cy="215.2" r="1.45"/><circle cx="153.2" cy="203.6" r="1.45"/><circle cx="158.8" cy="193.9" r="1.45"/><circle cx="155.6" cy="210.8" r="1.45"/><circle cx="154.5" cy="204.3" r="1.45"/><circle cx="144.0" cy="214.7" r="1.45"/><circle cx="139.9" cy="214.3" r="1.45"/><circle cx="153.0" cy="205.1" r="1.45"/><circle cx="158.3" cy="206.9" r="1.45"/><circle cx="149.5" cy="205.7" r="1.45"/><circle cx="160.0" cy="194.9" r="1.45"/><circle cx="160.0" cy="211.0" r="1.45"/><circle cx="147.2" cy="202.5" r="1.45"/><circle cx="149.4" cy="215.8" r="1.45"/><circle cx="159.6" cy="205.8" r="1.45"/><circle cx="155.4" cy="199.2" r="1.45"/><circle cx="169.5" cy="215.1" r="1.45"/><circle cx="143.5" cy="213.0" r="1.45"/><circle cx="151.2" cy="211.8" r="1.45"/><circle cx="138.7" cy="213.6" r="1.45"/><circle cx="146.0" cy="205.2" r="1.45"/><circle cx="142.0" cy="214.4" r="1.45"/><circle cx="139.0" cy="213.3" r="1.45"/><circle cx="144.8" cy="212.9" r="1.45"/><circle cx="146.2" cy="213.0" r="1.45"/><circle cx="143.3" cy="214.8" r="1.45"/><circle cx="181.0" cy="214.6" r="1.45"/><circle cx="168.5" cy="176.6" r="1.45"/><circle cx="162.4" cy="206.1" r="1.45"/><circle cx="144.4" cy="211.0" r="1.45"/><circle cx="143.0" cy="208.6" r="1.45"/><circle cx="145.5" cy="214.2" r="1.45"/><circle cx="144.1" cy="210.1" r="1.45"/><circle cx="176.1" cy="206.6" r="1.45"/><circle cx="184.2" cy="210.6" r="1.45"/><circle cx="149.8" cy="210.3" r="1.45"/><circle cx="161.2" cy="206.4" r="1.45"/><circle cx="154.9" cy="197.6" r="1.45"/><circle cx="156.6" cy="212.4" r="1.45"/><circle cx="139.6" cy="214.9" r="1.45"/><circle cx="148.3" cy="214.1" r="1.45"/><circle cx="162.3" cy="206.8" r="1.45"/><circle cx="145.4" cy="212.6" r="1.45"/><circle cx="163.4" cy="177.5" r="1.45"/><circle cx="143.3" cy="215.7" r="1.45"/><circle cx="152.2" cy="195.9" r="1.45"/><circle cx="159.6" cy="199.0" r="1.45"/><circle cx="160.2" cy="213.8" r="1.45"/><circle cx="175.5" cy="197.0" r="1.45"/><circle cx="139.6" cy="212.9" r="1.45"/><circle cx="151.3" cy="209.8" r="1.45"/><circle cx="173.5" cy="210.4" r="1.45"/><circle cx="146.8" cy="203.9" r="1.45"/><circle cx="174.1" cy="209.8" r="1.45"/><circle cx="166.6" cy="193.8" r="1.45"/><circle cx="165.7" cy="192.1" r="1.45"/><circle cx="148.3" cy="215.3" r="1.45"/><circle cx="143.7" cy="207.6" r="1.45"/><circle cx="160.3" cy="184.2" r="1.45"/><circle cx="155.8" cy="205.8" r="1.45"/><circle cx="171.4" cy="199.9" r="1.45"/><circle cx="138.9" cy="213.9" r="1.45"/><circle cx="152.0" cy="212.3" r="1.45"/><circle cx="156.1" cy="196.0" r="1.45"/><circle cx="173.8" cy="195.4" r="1.45"/><circle cx="153.8" cy="208.2" r="1.45"/><circle cx="151.4" cy="212.2" r="1.45"/><circle cx="150.9" cy="202.3" r="1.45"/><circle cx="150.5" cy="212.5" r="1.45"/><circle cx="150.5" cy="211.2" r="1.45"/><circle cx="147.5" cy="206.3" r="1.45"/><circle cx="138.3" cy="214.1" r="1.45"/><circle cx="161.8" cy="205.6" r="1.45"/><circle cx="139.0" cy="214.6" r="1.45"/><circle cx="160.8" cy="191.3" r="1.45"/><circle cx="141.1" cy="209.5" r="1.45"/><circle cx="138.9" cy="213.6" r="1.45"/><circle cx="152.5" cy="213.7" r="1.45"/><circle cx="167.5" cy="215.1" r="1.45"/><circle cx="149.8" cy="213.9" r="1.45"/><circle cx="143.5" cy="208.1" r="1.45"/><circle cx="155.3" cy="189.6" r="1.45"/><circle cx="153.4" cy="212.6" r="1.45"/><circle cx="146.2" cy="203.0" r="1.45"/><circle cx="161.7" cy="214.3" r="1.45"/><circle cx="149.9" cy="209.5" r="1.45"/><circle cx="156.2" cy="194.3" r="1.45"/><circle cx="145.1" cy="213.2" r="1.45"/><circle cx="156.7" cy="195.1" r="1.45"/><circle cx="176.2" cy="211.2" r="1.45"/><circle cx="165.8" cy="189.6" r="1.45"/><circle cx="144.2" cy="205.5" r="1.45"/><circle cx="140.3" cy="212.8" r="1.45"/><circle cx="142.7" cy="215.3" r="1.45"/><circle cx="149.0" cy="199.3" r="1.45"/><circle cx="162.4" cy="213.6" r="1.45"/><circle cx="149.8" cy="207.9" r="1.45"/><circle cx="181.3" cy="207.3" r="1.45"/><circle cx="142.4" cy="209.2" r="1.45"/><circle cx="152.4" cy="200.5" r="1.45"/><circle cx="144.9" cy="207.8" r="1.45"/><circle cx="164.9" cy="214.5" r="1.45"/><circle cx="144.9" cy="211.7" r="1.45"/><circle cx="150.0" cy="215.1" r="1.45"/><circle cx="165.4" cy="192.0" r="1.45"/><circle cx="142.6" cy="208.5" r="1.45"/><circle cx="147.2" cy="211.4" r="1.45"/><circle cx="147.2" cy="215.1" r="1.45"/><circle cx="148.7" cy="208.2" r="1.45"/><circle cx="148.3" cy="206.9" r="1.45"/><circle cx="143.2" cy="215.0" r="1.45"/><circle cx="144.6" cy="209.3" r="1.45"/><circle cx="153.2" cy="201.5" r="1.45"/><circle cx="169.4" cy="213.1" r="1.45"/><circle cx="168.5" cy="205.2" r="1.45"/><circle cx="158.0" cy="214.1" r="1.45"/><circle cx="151.3" cy="209.2" r="1.45"/><circle cx="153.3" cy="210.0" r="1.45"/><circle cx="140.9" cy="210.7" r="1.45"/><circle cx="154.7" cy="194.5" r="1.45"/><circle cx="169.4" cy="206.8" r="1.45"/><circle cx="146.8" cy="205.9" r="1.45"/><circle cx="155.8" cy="205.4" r="1.45"/><circle cx="165.5" cy="187.5" r="1.45"/><circle cx="148.0" cy="215.1" r="1.45"/><circle cx="164.4" cy="213.3" r="1.45"/><circle cx="149.3" cy="210.6" r="1.45"/><circle cx="144.4" cy="205.2" r="1.45"/><circle cx="142.6" cy="212.8" r="1.45"/><circle cx="152.3" cy="199.0" r="1.45"/><circle cx="139.7" cy="211.7" r="1.45"/><circle cx="142.5" cy="208.2" r="1.45"/><circle cx="150.8" cy="210.9" r="1.45"/><circle cx="143.9" cy="205.9" r="1.45"/><circle cx="166.1" cy="190.0" r="1.45"/><circle cx="146.6" cy="214.9" r="1.45"/><circle cx="145.5" cy="207.5" r="1.45"/><circle cx="151.3" cy="215.4" r="1.45"/><circle cx="151.6" cy="196.0" r="1.45"/><circle cx="163.0" cy="210.8" r="1.45"/><circle cx="147.9" cy="208.7" r="1.45"/><circle cx="148.5" cy="207.5" r="1.45"/><circle cx="148.9" cy="208.9" r="1.45"/><circle cx="148.9" cy="199.4" r="1.45"/><circle cx="151.3" cy="197.9" r="1.45"/><circle cx="147.8" cy="209.4" r="1.45"/><circle cx="153.5" cy="207.7" r="1.45"/><circle cx="152.5" cy="206.2" r="1.45"/><circle cx="147.1" cy="215.3" r="1.45"/><circle cx="166.3" cy="185.2" r="1.45"/><circle cx="149.8" cy="205.2" r="1.45"/><circle cx="159.0" cy="215.7" r="1.45"/><circle cx="144.8" cy="211.1" r="1.45"/><circle cx="150.2" cy="208.5" r="1.45"/><circle cx="145.0" cy="214.0" r="1.45"/><circle cx="146.3" cy="206.0" r="1.45"/><circle cx="138.7" cy="214.2" r="1.45"/><circle cx="146.5" cy="201.3" r="1.45"/><circle cx="141.3" cy="215.6" r="1.45"/><circle cx="159.2" cy="210.5" r="1.45"/><circle cx="155.7" cy="186.9" r="1.45"/><circle cx="158.5" cy="215.7" r="1.45"/><circle cx="151.0" cy="200.0" r="1.45"/><circle cx="148.0" cy="208.6" r="1.45"/><circle cx="147.0" cy="205.0" r="1.45"/><circle cx="161.2" cy="197.7" r="1.45"/><circle cx="156.8" cy="213.7" r="1.45"/><circle cx="148.0" cy="209.1" r="1.45"/><circle cx="153.5" cy="207.0" r="1.45"/><circle cx="175.8" cy="206.1" r="1.45"/><circle cx="140.3" cy="213.8" r="1.45"/><circle cx="149.7" cy="211.3" r="1.45"/><circle cx="145.7" cy="212.2" r="1.45"/><circle cx="154.7" cy="192.9" r="1.45"/><circle cx="153.0" cy="213.6" r="1.45"/><circle cx="160.0" cy="197.6" r="1.45"/><circle cx="160.7" cy="203.8" r="1.45"/><circle cx="142.7" cy="215.0" r="1.45"/><circle cx="153.8" cy="197.1" r="1.45"/><circle cx="151.0" cy="203.6" r="1.45"/><circle cx="144.3" cy="213.5" r="1.45"/><circle cx="176.8" cy="191.2" r="1.45"/><circle cx="145.6" cy="213.2" r="1.45"/><circle cx="146.9" cy="204.4" r="1.45"/><circle cx="141.3" cy="210.3" r="1.45"/><circle cx="160.8" cy="211.5" r="1.45"/><circle cx="154.7" cy="210.5" r="1.45"/><circle cx="145.0" cy="205.1" r="1.45"/><circle cx="140.5" cy="215.6" r="1.45"/><circle cx="156.0" cy="209.5" r="1.45"/><circle cx="167.1" cy="198.1" r="1.45"/><circle cx="145.2" cy="205.9" r="1.45"/><circle cx="165.0" cy="210.0" r="1.45"/><circle cx="151.6" cy="209.0" r="1.45"/><circle cx="150.9" cy="206.6" r="1.45"/><circle cx="160.9" cy="202.0" r="1.45"/><circle cx="154.8" cy="201.3" r="1.45"/><circle cx="153.5" cy="207.5" r="1.45"/><circle cx="143.3" cy="215.8" r="1.45"/><circle cx="157.0" cy="203.2" r="1.45"/><circle cx="139.2" cy="213.8" r="1.45"/><circle cx="154.4" cy="215.4" r="1.45"/><circle cx="164.2" cy="203.8" r="1.45"/><circle cx="145.0" cy="208.8" r="1.45"/><circle cx="147.0" cy="201.0" r="1.45"/><circle cx="148.7" cy="214.2" r="1.45"/><circle cx="157.3" cy="215.5" r="1.45"/><circle cx="161.6" cy="203.2" r="1.45"/><circle cx="141.9" cy="209.7" r="1.45"/><circle cx="140.8" cy="214.8" r="1.45"/><circle cx="154.8" cy="208.1" r="1.45"/><circle cx="149.6" cy="213.4" r="1.45"/><circle cx="150.3" cy="198.0" r="1.45"/><circle cx="152.4" cy="211.9" r="1.45"/><circle cx="155.1" cy="199.5" r="1.45"/><circle cx="156.5" cy="196.3" r="1.45"/><circle cx="168.9" cy="206.2" r="1.45"/><circle cx="143.7" cy="212.4" r="1.45"/><circle cx="140.3" cy="211.4" r="1.45"/><circle cx="155.1" cy="215.8" r="1.45"/><circle cx="150.3" cy="207.0" r="1.45"/><circle cx="154.1" cy="210.9" r="1.45"/><circle cx="146.6" cy="211.9" r="1.45"/><circle cx="144.1" cy="210.0" r="1.45"/><circle cx="173.0" cy="208.1" r="1.45"/><circle cx="148.2" cy="213.5" r="1.45"/><circle cx="160.4" cy="186.5" r="1.45"/><circle cx="169.6" cy="211.5" r="1.45"/><circle cx="139.0" cy="213.7" r="1.45"/><circle cx="151.7" cy="202.4" r="1.45"/><circle cx="145.2" cy="213.5" r="1.45"/><circle cx="157.3" cy="212.6" r="1.45"/><circle cx="158.8" cy="191.2" r="1.45"/><circle cx="145.6" cy="205.6" r="1.45"/><circle cx="141.2" cy="213.5" r="1.45"/><circle cx="153.5" cy="208.1" r="1.45"/><circle cx="148.8" cy="208.1" r="1.45"/><circle cx="142.2" cy="213.0" r="1.45"/><circle cx="156.6" cy="206.2" r="1.45"/><circle cx="140.4" cy="211.6" r="1.45"/><circle cx="157.4" cy="215.6" r="1.45"/><circle cx="171.2" cy="195.0" r="1.45"/><circle cx="160.9" cy="206.6" r="1.45"/><circle cx="145.6" cy="214.4" r="1.45"/><circle cx="161.1" cy="209.6" r="1.45"/><circle cx="141.9" cy="215.7" r="1.45"/><circle cx="148.0" cy="202.2" r="1.45"/><circle cx="141.3" cy="210.9" r="1.45"/><circle cx="151.1" cy="212.8" r="1.45"/><circle cx="145.2" cy="213.7" r="1.45"/><circle cx="149.1" cy="210.0" r="1.45"/><circle cx="148.7" cy="210.6" r="1.45"/><circle cx="169.9" cy="208.6" r="1.45"/><circle cx="149.5" cy="211.8" r="1.45"/><circle cx="146.3" cy="201.0" r="1.45"/><circle cx="148.2" cy="215.3" r="1.45"/><circle cx="149.7" cy="199.1" r="1.45"/><circle cx="165.9" cy="199.8" r="1.45"/><circle cx="157.1" cy="214.0" r="1.45"/><circle cx="148.5" cy="206.2" r="1.45"/><circle cx="154.2" cy="188.6" r="1.45"/><circle cx="166.8" cy="203.4" r="1.45"/><circle cx="175.2" cy="208.0" r="1.45"/><circle cx="141.7" cy="215.7" r="1.45"/><circle cx="154.6" cy="212.4" r="1.45"/><circle cx="162.6" cy="201.6" r="1.45"/><circle cx="157.1" cy="211.7" r="1.45"/><circle cx="178.0" cy="215.1" r="1.45"/><circle cx="152.7" cy="200.1" r="1.45"/><circle cx="171.0" cy="212.2" r="1.45"/><circle cx="143.8" cy="207.3" r="1.45"/><circle cx="149.0" cy="210.3" r="1.45"/><circle cx="169.2" cy="211.0" r="1.45"/><circle cx="142.8" cy="212.4" r="1.45"/><circle cx="153.7" cy="195.6" r="1.45"/><circle cx="144.1" cy="213.9" r="1.45"/><circle cx="149.8" cy="209.0" r="1.45"/><circle cx="148.5" cy="197.6" r="1.45"/><circle cx="138.3" cy="215.3" r="1.45"/><circle cx="160.0" cy="180.9" r="1.45"/><circle cx="183.7" cy="193.9" r="1.45"/><circle cx="169.5" cy="208.6" r="1.45"/><circle cx="170.1" cy="211.9" r="1.45"/><circle cx="145.5" cy="205.8" r="1.45"/><circle cx="140.6" cy="210.5" r="1.45"/><circle cx="164.7" cy="210.8" r="1.45"/><circle cx="167.1" cy="187.9" r="1.45"/><circle cx="149.0" cy="209.9" r="1.45"/><circle cx="138.3" cy="213.9" r="1.45"/><circle cx="180.1" cy="210.4" r="1.45"/><circle cx="173.4" cy="206.0" r="1.45"/><circle cx="160.1" cy="196.4" r="1.45"/><circle cx="142.6" cy="214.1" r="1.45"/><circle cx="140.9" cy="210.8" r="1.45"/><circle cx="143.1" cy="211.9" r="1.45"/><circle cx="165.0" cy="208.1" r="1.45"/><circle cx="138.3" cy="215.9" r="1.45"/><circle cx="148.5" cy="215.6" r="1.45"/><circle cx="148.7" cy="215.6" r="1.45"/><circle cx="148.2" cy="211.9" r="1.45"/><circle cx="183.6" cy="208.1" r="1.45"/><circle cx="148.3" cy="206.8" r="1.45"/><circle cx="157.9" cy="212.9" r="1.45"/><circle cx="143.5" cy="216.0" r="1.45"/><circle cx="212.5" cy="55.8" r="1.45"/><circle cx="185.8" cy="103.8" r="1.45"/><circle cx="183.9" cy="106.6" r="1.45"/><circle cx="183.9" cy="123.2" r="1.45"/><circle cx="187.4" cy="125.1" r="1.45"/><circle cx="194.5" cy="123.9" r="1.45"/><circle cx="196.2" cy="128.4" r="1.45"/><circle cx="191.0" cy="130.3" r="1.45"/><circle cx="194.5" cy="135.5" r="1.45"/><circle cx="172.7" cy="131.0" r="1.45"/><circle cx="182.7" cy="139.1" r="1.45"/><circle cx="173.7" cy="140.5" r="1.45"/><circle cx="170.8" cy="145.0" r="1.45"/><circle cx="170.8" cy="147.4" r="1.45"/><circle cx="178.4" cy="148.8" r="1.45"/><circle cx="182.2" cy="149.3" r="1.45"/><circle cx="190.3" cy="147.4" r="1.45"/><circle cx="191.7" cy="148.1" r="1.45"/><circle cx="204.9" cy="111.3" r="1.45"/><circle cx="202.5" cy="119.6" r="1.45"/><circle cx="205.9" cy="145.9" r="1.45"/><circle cx="226.0" cy="150.4" r="1.45"/><circle cx="196.0" cy="157.1" r="1.45"/><circle cx="202.9" cy="159.7" r="1.45"/><circle cx="230.0" cy="166.2" r="1.45"/><circle cx="209.2" cy="173.9" r="1.45"/><circle cx="208.2" cy="175.9" r="1.45"/><circle cx="203.3" cy="178.5" r="1.45"/><circle cx="232.2" cy="181.8" r="1.45"/><circle cx="197.9" cy="186.5" r="1.45"/><circle cx="196.9" cy="187.8" r="1.45"/><circle cx="194.9" cy="188.4" r="1.45"/><circle cx="190.0" cy="188.4" r="1.45"/><circle cx="206.4" cy="190.2" r="1.45"/><circle cx="213.3" cy="188.4" r="1.45"/><circle cx="201.3" cy="193.4" r="1.45"/><circle cx="208.8" cy="194.8" r="1.45"/><circle cx="195.9" cy="200.3" r="1.45"/><circle cx="197.3" cy="201.7" r="1.45"/><circle cx="201.5" cy="202.3" r="1.45"/><circle cx="205.4" cy="206.0" r="1.45"/><circle cx="214.7" cy="209.0" r="1.45"/><circle cx="198.9" cy="209.2" r="1.45"/><circle cx="193.0" cy="209.6" r="1.45"/><circle cx="191.0" cy="212.0" r="1.45"/><circle cx="208.8" cy="212.5" r="1.45"/><circle cx="196.9" cy="213.5" r="1.45"/><circle cx="194.3" cy="214.5" r="1.45"/><circle cx="171.0" cy="145.0" r="1.45"/><circle cx="171.0" cy="147.5" r="1.45"/><circle cx="178.5" cy="148.9" r="1.45"/><circle cx="182.4" cy="150.1" r="1.45"/><circle cx="176.3" cy="152.1" r="1.45"/><circle cx="189.5" cy="147.5" r="1.45"/><circle cx="191.8" cy="148.4" r="1.45"/><circle cx="194.8" cy="156.9" r="1.45"/><circle cx="190.9" cy="162.2" r="1.45"/><circle cx="164.2" cy="158.7" r="1.45"/><circle cx="161.6" cy="162.8" r="1.45"/><circle cx="176.7" cy="161.4" r="1.45"/><circle cx="175.8" cy="163.1" r="1.45"/><circle cx="173.1" cy="164.6" r="1.45"/><circle cx="165.7" cy="167.0" r="1.45"/><circle cx="176.3" cy="168.8" r="1.45"/><circle cx="179.0" cy="170.6" r="1.45"/><circle cx="168.7" cy="170.2" r="1.45"/><circle cx="169.2" cy="172.9" r="1.45"/><circle cx="173.5" cy="173.5" r="1.45"/><circle cx="175.8" cy="174.2" r="1.45"/><circle cx="162.8" cy="174.2" r="1.45"/><circle cx="159.8" cy="175.6" r="1.45"/><circle cx="177.6" cy="175.6" r="1.45"/><circle cx="167.8" cy="177.4" r="1.45"/><circle cx="165.1" cy="177.7" r="1.45"/><circle cx="175.8" cy="177.7" r="1.45"/><circle cx="163.3" cy="178.8" r="1.45"/><circle cx="169.9" cy="179.1" r="1.45"/><circle cx="157.1" cy="180.0" r="1.45"/><circle cx="182.0" cy="180.6" r="1.45"/><circle cx="161.0" cy="181.8" r="1.45"/><circle cx="178.8" cy="182.3" r="1.45"/><circle cx="174.9" cy="181.3" r="1.45"/><circle cx="167.8" cy="181.8" r="1.45"/><circle cx="154.4" cy="183.6" r="1.45"/><circle cx="158.0" cy="183.6" r="1.45"/><circle cx="162.5" cy="183.6" r="1.45"/></g>
<line x1="122.51" y1="47.7" x2="122.51" y2="227.0" stroke="#b4b4b4" stroke-width="1"/>
<line x1="138.29" y1="47.7" x2="138.29" y2="227.0" stroke="#b4b4b4" stroke-width="1"/>
<line x1="40.5" y1="218.50" x2="241.5" y2="218.50" stroke="#a3a3a3" stroke-width="1.15"/>
<g transform="translate(44 0) scale(0.975 1) translate(-44 0)">
<text x="44" y="62.0" font-size="8.55" fill="#ee2a36" text-anchor="start" >Yap1</text>
<text x="44" y="71.7" font-size="8.55" fill="#ee2a36" text-anchor="start" >logFC=0.72,</text>
<text x="44" y="81.3" font-size="8.55" fill="#ee2a36" text-anchor="start" >−log10(PValue)=5.00</text>
<text x="44" y="102.2" font-size="8.55" fill="#1a1a1a" text-anchor="start" >Wwtr1</text>
<text x="44" y="111.9" font-size="8.55" fill="#1a1a1a" text-anchor="start" >logFC=0.55, -</text>
<text x="44" y="121.4" font-size="8.55" fill="#1a1a1a" text-anchor="start" >−log10(PValue)=2.86</text>
</g>
<text x="36.4" y="220.30" font-size="6.5" fill="#4d4d4d" text-anchor="end" >0</text>
<text x="36.4" y="178.95" font-size="6.5" fill="#4d4d4d" text-anchor="end" >50</text>
<text x="36.4" y="137.60" font-size="6.5" fill="#4d4d4d" text-anchor="end" >100</text>
<text x="36.4" y="96.25" font-size="6.5" fill="#4d4d4d" text-anchor="end" >150</text>
<text x="36.4" y="54.90" font-size="6.5" fill="#4d4d4d" text-anchor="end" >200</text>
<text x="79.48" y="235.8" font-size="6.5" fill="#4d4d4d" text-anchor="middle" >−4</text>
<text x="130.40" y="235.8" font-size="6.5" fill="#4d4d4d" text-anchor="middle" >0</text>
<text x="181.32" y="235.8" font-size="6.5" fill="#4d4d4d" text-anchor="middle" >4</text>
<text x="232.24" y="235.8" font-size="6.5" fill="#4d4d4d" text-anchor="middle" >8</text>
<text x="140.9" y="244.2" font-size="8" fill="#000" text-anchor="middle" >logFC</text>
<text transform="translate(22.6,138.3) rotate(-90)" font-size="8.35" text-anchor="middle" fill="#000">-log10(PValue)</text>
<text x="40.6" y="29.6" font-size="12.68" fill="#1a1a1a" text-anchor="start" >RNA-seq of denervated muscles</text>
<text x="3" y="37.9" font-size="20" fill="#000" text-anchor="start" font-weight="bold">a</text>
<text x="273.2" y="26.8" font-size="20" fill="#000" text-anchor="start" font-weight="bold">b</text>
<text x="273.4" y="146.1" font-size="20" fill="#000" text-anchor="start" font-weight="bold">c</text>
<line x1="288.7" y1="32.8" x2="288.7" y2="125.8" stroke="#000" stroke-width="1.4"/>
<line x1="288.7" y1="148.5" x2="288.7" y2="241.2" stroke="#000" stroke-width="1.4"/>
<text transform="translate(278.6,78.1) rotate(-90)" font-size="12.5" text-anchor="middle" fill="#1a1a1a">RNA-seq</text>
<text transform="translate(279.2,194.2) rotate(-90)" font-size="12.5" text-anchor="middle" fill="#1a1a1a">RT-qPCR</text>
<line x1="333.6" y1="38.5" x2="333.6" y2="117.2" stroke="#151515" stroke-width="1.3"/>
<line x1="329.0" y1="117.20" x2="333.6" y2="117.20" stroke="#151515" stroke-width="1.1"/>
<text x="327.40" y="120.00" font-size="8.1" fill="#151515" text-anchor="end" >0</text>
<line x1="329.0" y1="101.46" x2="333.6" y2="101.46" stroke="#151515" stroke-width="1.1"/>
<text x="327.40" y="104.26" font-size="8.1" fill="#151515" text-anchor="end" >10</text>
<line x1="329.0" y1="85.72" x2="333.6" y2="85.72" stroke="#151515" stroke-width="1.1"/>
<text x="327.40" y="88.52" font-size="8.1" fill="#151515" text-anchor="end" >20</text>
<line x1="329.0" y1="69.98" x2="333.6" y2="69.98" stroke="#151515" stroke-width="1.1"/>
<text x="327.40" y="72.78" font-size="8.1" fill="#151515" text-anchor="end" >30</text>
<line x1="329.0" y1="54.24" x2="333.6" y2="54.24" stroke="#151515" stroke-width="1.1"/>
<text x="327.40" y="57.04" font-size="8.1" fill="#151515" text-anchor="end" >40</text>
<line x1="329.0" y1="38.50" x2="333.6" y2="38.50" stroke="#151515" stroke-width="1.1"/>
<text x="327.40" y="41.30" font-size="8.1" fill="#151515" text-anchor="end" >50</text>
<line x1="332.95000000000005" y1="117.2" x2="412" y2="117.2" stroke="#151515" stroke-width="1.35"/>
<line x1="355.9" y1="117.2" x2="355.9" y2="121.0" stroke="#151515" stroke-width="1.1"/>
<text x="355.9" y="131.3" font-size="8.8" fill="#151515" text-anchor="middle" >CTL</text>
<line x1="389.9" y1="117.2" x2="389.9" y2="121.0" stroke="#151515" stroke-width="1.1"/>
<text x="389.9" y="131.3" font-size="8.8" fill="#151515" text-anchor="middle" >DEN</text>
<text x="372.6" y="13.1" font-size="12.6" fill="#1a1a1a" text-anchor="middle" font-style="italic">Yap1</text>
<text transform="translate(309.8,77.9) rotate(-90)" font-size="8.3" text-anchor="middle" fill="#222">Counts per million</text>
<line x1="465.3" y1="38.3" x2="465.3" y2="117.7" stroke="#151515" stroke-width="1.3"/>
<line x1="460.7" y1="117.70" x2="465.3" y2="117.70" stroke="#151515" stroke-width="1.1"/>
<text x="459.10" y="120.50" font-size="8.1" fill="#151515" text-anchor="end" >0</text>
<line x1="460.7" y1="101.84" x2="465.3" y2="101.84" stroke="#151515" stroke-width="1.1"/>
<text x="459.10" y="104.64" font-size="8.1" fill="#151515" text-anchor="end" >10</text>
<line x1="460.7" y1="85.98" x2="465.3" y2="85.98" stroke="#151515" stroke-width="1.1"/>
<text x="459.10" y="88.78" font-size="8.1" fill="#151515" text-anchor="end" >20</text>
<line x1="460.7" y1="70.12" x2="465.3" y2="70.12" stroke="#151515" stroke-width="1.1"/>
<text x="459.10" y="72.92" font-size="8.1" fill="#151515" text-anchor="end" >30</text>
<line x1="460.7" y1="54.26" x2="465.3" y2="54.26" stroke="#151515" stroke-width="1.1"/>
<text x="459.10" y="57.06" font-size="8.1" fill="#151515" text-anchor="end" >40</text>
<line x1="460.7" y1="38.40" x2="465.3" y2="38.40" stroke="#151515" stroke-width="1.1"/>
<text x="459.10" y="41.20" font-size="8.1" fill="#151515" text-anchor="end" >50</text>
<line x1="464.65000000000003" y1="117.7" x2="546" y2="117.7" stroke="#151515" stroke-width="1.35"/>
<line x1="488.3" y1="117.7" x2="488.3" y2="121.5" stroke="#151515" stroke-width="1.1"/>
<text x="488.3" y="132.4" font-size="8.8" fill="#151515" text-anchor="middle" >CTL</text>
<line x1="522.7" y1="117.7" x2="522.7" y2="121.5" stroke="#151515" stroke-width="1.1"/>
<text x="522.7" y="132.4" font-size="8.8" fill="#151515" text-anchor="middle" >DEN</text>
<text x="504.7" y="12.9" font-size="12.6" fill="#1a1a1a" text-anchor="middle" font-style="italic">Wwtr1</text>
<text transform="translate(441.8,78.1) rotate(-90)" font-size="8.3" text-anchor="middle" fill="#222">Counts per million</text>
<line x1="333.8" y1="153" x2="333.8" y2="234.6" stroke="#151515" stroke-width="1.3"/>
<line x1="329.2" y1="234.60" x2="333.8" y2="234.60" stroke="#151515" stroke-width="1.1"/>
<text x="327.60" y="237.40" font-size="8.1" fill="#151515" text-anchor="end" >0</text>
<line x1="329.2" y1="207.40" x2="333.8" y2="207.40" stroke="#151515" stroke-width="1.1"/>
<text x="327.60" y="210.20" font-size="8.1" fill="#151515" text-anchor="end" >1</text>
<line x1="329.2" y1="180.20" x2="333.8" y2="180.20" stroke="#151515" stroke-width="1.1"/>
<text x="327.60" y="183.00" font-size="8.1" fill="#151515" text-anchor="end" >2</text>
<line x1="329.2" y1="153.00" x2="333.8" y2="153.00" stroke="#151515" stroke-width="1.1"/>
<text x="327.60" y="155.80" font-size="8.1" fill="#151515" text-anchor="end" >3</text>
<line x1="333.15000000000003" y1="234.6" x2="416" y2="234.6" stroke="#151515" stroke-width="1.35"/>
<line x1="356.6" y1="234.6" x2="356.6" y2="238.4" stroke="#151515" stroke-width="1.1"/>
<text x="356.6" y="249.9" font-size="9" fill="#151515" text-anchor="middle" >CTL</text>
<line x1="392.4" y1="234.6" x2="392.4" y2="238.4" stroke="#151515" stroke-width="1.1"/>
<text x="392.4" y="249.9" font-size="9" fill="#151515" text-anchor="middle" >DEN</text>
<line x1="465.4" y1="154.6" x2="465.4" y2="234.8" stroke="#151515" stroke-width="1.3"/>
<line x1="460.79999999999995" y1="234.80" x2="465.4" y2="234.80" stroke="#151515" stroke-width="1.1"/>
<text x="459.20" y="237.60" font-size="8.1" fill="#151515" text-anchor="end" >0</text>
<line x1="460.79999999999995" y1="208.05" x2="465.4" y2="208.05" stroke="#151515" stroke-width="1.1"/>
<text x="459.20" y="210.85" font-size="8.1" fill="#151515" text-anchor="end" >1</text>
<line x1="460.79999999999995" y1="181.30" x2="465.4" y2="181.30" stroke="#151515" stroke-width="1.1"/>
<text x="459.20" y="184.10" font-size="8.1" fill="#151515" text-anchor="end" >2</text>
<line x1="460.79999999999995" y1="154.55" x2="465.4" y2="154.55" stroke="#151515" stroke-width="1.1"/>
<text x="459.20" y="157.35" font-size="8.1" fill="#151515" text-anchor="end" >3</text>
<line x1="464.75" y1="234.8" x2="545" y2="234.8" stroke="#151515" stroke-width="1.35"/>
<line x1="488.6" y1="234.8" x2="488.6" y2="238.60000000000002" stroke="#151515" stroke-width="1.1"/>
<text x="488.6" y="249.8" font-size="9" fill="#151515" text-anchor="middle" >CTL</text>
<line x1="522.8" y1="234.8" x2="522.8" y2="238.60000000000002" stroke="#151515" stroke-width="1.1"/>
<text x="522.8" y="249.8" font-size="9" fill="#151515" text-anchor="middle" >DEN</text>
<text transform="translate(309.3,192.9) rotate(-90)" font-size="8.9" text-anchor="middle" fill="#222"><tspan font-style="italic">Yap1 / 18s</tspan> (2<tspan font-size="6.5" dy="-3.2">−ΔΔC</tspan><tspan font-size="4.8" dy="1.3">t</tspan><tspan dy="1.9">)</tspan></text>
<text transform="translate(442.0,194.7) rotate(-90)" font-size="8.9" text-anchor="middle" fill="#222"><tspan font-style="italic">Wwtr1 / 18s</tspan> (2<tspan font-size="6.5" dy="-3.2">−ΔΔC</tspan><tspan font-size="4.8" dy="1.3">t</tspan><tspan dy="1.9">)</tspan></text>
<polyline points="355.9,72.5 355.9,42.8 389.9,42.8 389.9,49.5" fill="none" stroke="#2a2a2a" stroke-width="1.2"/>
<text x="372.8" y="40.2" font-size="9" fill="#222" text-anchor="middle" ></text>
<text x="370.9" y="42.6" font-size="10" fill="#1a1a1a" text-anchor="middle" font-weight="bold">*</text>
<text x="375.3" y="42.6" font-size="10" fill="#1a1a1a" text-anchor="middle" font-weight="bold">*</text>
<polyline points="488.3,62.7 488.3,34.0 522.8,34.0 522.8,40.4" fill="none" stroke="#2a2a2a" stroke-width="1.2"/>
<text x="505.4" y="31.4" font-size="9" fill="#222" text-anchor="middle" ></text>
<text x="505.4" y="33.8" font-size="10" fill="#1a1a1a" text-anchor="middle" font-weight="bold">*</text>
<polyline points="356.6,197.4 356.6,169.0 391.9,169.0 391.9,180.8" fill="none" stroke="#2a2a2a" stroke-width="1.2"/>
<text x="374.2" y="164.2" font-size="7.5" fill="#222" text-anchor="middle" >ns</text>
<polyline points="488.2,181.6 488.2,174.0 523.1,174.0 523.1,180.0" fill="none" stroke="#2a2a2a" stroke-width="1.2"/>
<text x="505.5" y="170.4" font-size="7.5" fill="#222" text-anchor="middle" >ns</text>
<circle cx="352.6" cy="82.8" r="1.6" fill="#2f62c4"/>
<circle cx="359.0" cy="82.8" r="1.6" fill="#2f62c4"/>
<line x1="344.8" y1="83.8" x2="366.8" y2="83.8" stroke="#5b88d6" stroke-width="1.5"/>
<line x1="355.8" y1="81.6" x2="355.8" y2="86.2" stroke="#3b4560" stroke-width="1"/>
<line x1="350.0" y1="81.6" x2="361.6" y2="81.6" stroke="#3b4560" stroke-width="1"/>
<line x1="350.0" y1="86.2" x2="361.6" y2="86.2" stroke="#3b4560" stroke-width="1"/>
<circle cx="355.8" cy="78.3" r="1.6" fill="#2f62c4"/>
<circle cx="355.8" cy="90.8" r="1.6" fill="#2f62c4"/>
<circle cx="389.9" cy="62.0" r="1.6" fill="#c9a36f"/>
<line x1="378.9" y1="62.4" x2="400.9" y2="62.4" stroke="#d9b98a" stroke-width="1.5"/>
<line x1="389.9" y1="59.4" x2="389.9" y2="65.5" stroke="#8a7a62" stroke-width="1"/>
<line x1="384.09999999999997" y1="59.4" x2="395.7" y2="59.4" stroke="#8a7a62" stroke-width="1"/>
<line x1="384.09999999999997" y1="65.5" x2="395.7" y2="65.5" stroke="#8a7a62" stroke-width="1"/>
<circle cx="389.9" cy="55.2" r="1.6" fill="#c9a36f"/>
<circle cx="389.9" cy="69.1" r="1.6" fill="#c9a36f"/>
<circle cx="488.5" cy="74.3" r="1.6" fill="#2f62c4"/>
<line x1="477.0" y1="77.0" x2="500.0" y2="77.0" stroke="#5b88d6" stroke-width="1.5"/>
<line x1="488.5" y1="73.4" x2="488.5" y2="80.2" stroke="#3b4560" stroke-width="1"/>
<line x1="482.5" y1="73.4" x2="494.5" y2="73.4" stroke="#3b4560" stroke-width="1"/>
<line x1="482.5" y1="80.2" x2="494.5" y2="80.2" stroke="#3b4560" stroke-width="1"/>
<circle cx="488.5" cy="68.9" r="1.6" fill="#2f62c4"/>
<circle cx="485.1" cy="82.3" r="1.6" fill="#2f62c4"/>
<circle cx="491.8" cy="82.3" r="1.6" fill="#2f62c4"/>
<circle cx="522.6" cy="55.4" r="1.6" fill="#c9a36f"/>
<line x1="511.1" y1="58.0" x2="534.1" y2="58.0" stroke="#d9b98a" stroke-width="1.5"/>
<line x1="522.6" y1="53.4" x2="522.6" y2="62.0" stroke="#8a7a62" stroke-width="1"/>
<line x1="516.8000000000001" y1="53.4" x2="528.4" y2="53.4" stroke="#8a7a62" stroke-width="1"/>
<line x1="516.8000000000001" y1="62.0" x2="528.4" y2="62.0" stroke="#8a7a62" stroke-width="1"/>
<circle cx="522.6" cy="46.8" r="1.6" fill="#c9a36f"/>
<circle cx="526.0" cy="63.2" r="1.6" fill="#c9a36f"/>
<circle cx="519.5" cy="65.3" r="1.6" fill="#c9a36f"/>
<line x1="344.90000000000003" y1="207.2" x2="368.3" y2="207.2" stroke="#1a1a1a" stroke-width="1.5"/>
<line x1="356.6" y1="200.6" x2="356.6" y2="214.2" stroke="#1a1a1a" stroke-width="1"/>
<line x1="351.1" y1="200.6" x2="362.1" y2="200.6" stroke="#1a1a1a" stroke-width="1"/>
<line x1="351.1" y1="214.2" x2="362.1" y2="214.2" stroke="#1a1a1a" stroke-width="1"/>
<circle cx="353.2" cy="200.6" r="1.5" fill="#1a1a1a"/>
<circle cx="360.6" cy="200.6" r="1.5" fill="#1a1a1a"/>
<circle cx="356.6" cy="221.5" r="1.5" fill="#1a1a1a"/>
<line x1="382.9" y1="189.1" x2="401.5" y2="189.1" stroke="#1a1a1a" stroke-width="1.5"/>
<line x1="392.2" y1="184.4" x2="392.2" y2="193.8" stroke="#1a1a1a" stroke-width="1"/>
<line x1="387.0" y1="184.4" x2="397.4" y2="184.4" stroke="#1a1a1a" stroke-width="1"/>
<line x1="387.0" y1="193.8" x2="397.4" y2="193.8" stroke="#1a1a1a" stroke-width="1"/>
<circle cx="388.0" cy="184.4" r="1.5" fill="#1a1a1a"/>
<circle cx="395.9" cy="184.4" r="1.5" fill="#1a1a1a"/>
<circle cx="392.2" cy="199.2" r="1.5" fill="#1a1a1a"/>
<line x1="476.7" y1="208.4" x2="500.09999999999997" y2="208.4" stroke="#1a1a1a" stroke-width="1.5"/>
<line x1="488.4" y1="197.5" x2="488.4" y2="218.9" stroke="#1a1a1a" stroke-width="1"/>
<line x1="482.59999999999997" y1="197.5" x2="494.2" y2="197.5" stroke="#1a1a1a" stroke-width="1"/>
<line x1="482.59999999999997" y1="218.9" x2="494.2" y2="218.9" stroke="#1a1a1a" stroke-width="1"/>
<circle cx="488.4" cy="188.6" r="1.5" fill="#1a1a1a"/>
<circle cx="488.4" cy="210.3" r="1.5" fill="#1a1a1a"/>
<circle cx="488.4" cy="226.1" r="1.5" fill="#1a1a1a"/>
<line x1="511.3" y1="194.9" x2="534.7" y2="194.9" stroke="#1a1a1a" stroke-width="1.5"/>
<line x1="523.0" y1="189.9" x2="523.0" y2="199.3" stroke="#1a1a1a" stroke-width="1"/>
<line x1="517.5" y1="189.9" x2="528.5" y2="189.9" stroke="#1a1a1a" stroke-width="1"/>
<line x1="517.5" y1="199.3" x2="528.5" y2="199.3" stroke="#1a1a1a" stroke-width="1"/>
<circle cx="523.0" cy="186.3" r="1.5" fill="#1a1a1a"/>
<circle cx="523.0" cy="195.4" r="1.5" fill="#1a1a1a"/>
<circle cx="523.0" cy="202.8" r="1.5" fill="#1a1a1a"/>
</svg>
</body></html>
